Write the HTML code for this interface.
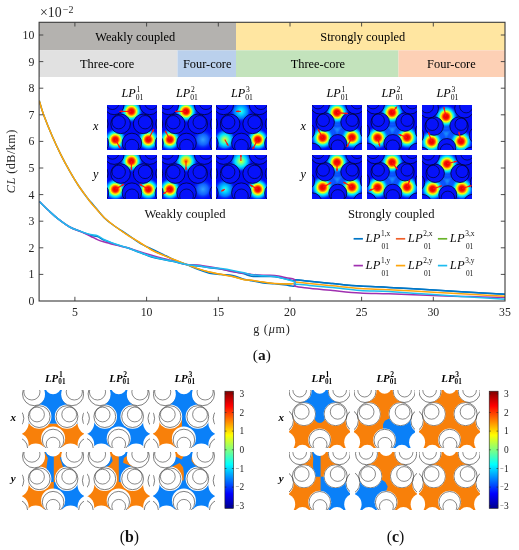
<!DOCTYPE html>
<html><head><meta charset="utf-8"><title>Figure</title>
<style>html,body{margin:0;padding:0;background:#fff;}svg{display:block;}text{font-family:"Liberation Serif",serif;}</style>
</head><body>
<svg width="519" height="550" viewBox="0 0 519 550">
<defs>
<radialGradient id="gHot" cx="50%" cy="50%" r="50%">
<stop offset="0" stop-color="#d80000" stop-opacity="1"/>
<stop offset="0.22" stop-color="#ff1000" stop-opacity="1"/>
<stop offset="0.34" stop-color="#ff9000" stop-opacity="1"/>
<stop offset="0.43" stop-color="#ffff00" stop-opacity="1"/>
<stop offset="0.52" stop-color="#80ff70" stop-opacity="1"/>
<stop offset="0.62" stop-color="#00f0ff" stop-opacity="1"/>
<stop offset="0.78" stop-color="#0078ff" stop-opacity="1"/>
<stop offset="1" stop-color="#0010ff" stop-opacity="0"/>
</radialGradient>
<radialGradient id="gMed" cx="50%" cy="50%" r="50%">
<stop offset="0" stop-color="#ff4000" stop-opacity="1"/>
<stop offset="0.12" stop-color="#ff9000" stop-opacity="1"/>
<stop offset="0.25" stop-color="#ffe000" stop-opacity="1"/>
<stop offset="0.4" stop-color="#a0ff50" stop-opacity="1"/>
<stop offset="0.58" stop-color="#00f0ff" stop-opacity="1"/>
<stop offset="0.78" stop-color="#0078ff" stop-opacity="1"/>
<stop offset="1" stop-color="#0010ff" stop-opacity="0"/>
</radialGradient>
<radialGradient id="gMed2" cx="50%" cy="50%" r="50%">
<stop offset="0" stop-color="#e8ff20" stop-opacity="1"/>
<stop offset="0.12" stop-color="#b0ff50" stop-opacity="1"/>
<stop offset="0.28" stop-color="#60ffa0" stop-opacity="1"/>
<stop offset="0.5" stop-color="#00e8ff" stop-opacity="1"/>
<stop offset="0.75" stop-color="#0078ff" stop-opacity="1"/>
<stop offset="1" stop-color="#0010ff" stop-opacity="0"/>
</radialGradient>
<radialGradient id="gCy" cx="50%" cy="50%" r="50%">
<stop offset="0" stop-color="#40ffe0" stop-opacity="1"/>
<stop offset="0.3" stop-color="#00d0ff" stop-opacity="1"/>
<stop offset="0.65" stop-color="#0070ff" stop-opacity="1"/>
<stop offset="1" stop-color="#0010ff" stop-opacity="0"/>
</radialGradient>
<radialGradient id="gDim" cx="50%" cy="50%" r="50%">
<stop offset="0" stop-color="#30a0ff" stop-opacity="1"/>
<stop offset="0.5" stop-color="#1060ff" stop-opacity="1"/>
<stop offset="1" stop-color="#0010ff" stop-opacity="0"/>
</radialGradient>
<radialGradient id="gHaze" cx="50%" cy="50%" r="50%">
<stop offset="0" stop-color="#1890ff" stop-opacity="1"/>
<stop offset="0.55" stop-color="#0a58ff" stop-opacity="0.75"/>
<stop offset="1" stop-color="#0010ff" stop-opacity="0"/>
</radialGradient>
<linearGradient id="jet" x1="0" y1="1" x2="0" y2="0">
<stop offset="0" stop-color="#00008f"/>
<stop offset="0.125" stop-color="#0000ff"/>
<stop offset="0.375" stop-color="#00ffff"/>
<stop offset="0.5" stop-color="#80ff80"/>
<stop offset="0.625" stop-color="#ffff00"/>
<stop offset="0.875" stop-color="#ff0000"/>
<stop offset="1" stop-color="#800000"/>
</linearGradient>
</defs>
<rect x="0" y="0" width="519" height="550" fill="#ffffff"/>
<rect x="39.1" y="22.3" width="196.9" height="28.0" fill="#b4b2af"/>
<rect x="236.0" y="22.3" width="269.0" height="28.0" fill="#ffe6a1"/>
<rect x="39.1" y="50.3" width="138.4" height="26.7" fill="#e1e1e1"/>
<rect x="177.5" y="50.3" width="58.5" height="26.7" fill="#bad0ec"/>
<rect x="236.0" y="50.3" width="162.5" height="26.7" fill="#c3e3bc"/>
<rect x="398.5" y="50.3" width="106.5" height="26.7" fill="#fdd0b5"/>
<text x="135.3" y="40.8" font-size="12.40" text-anchor="middle" fill="#000">Weakly coupled</text>
<text x="362.8" y="40.8" font-size="12.40" text-anchor="middle" fill="#000">Strongly coupled</text>
<text x="107.2" y="67.6" font-size="12.40" text-anchor="middle" fill="#000">Three-core</text>
<text x="207.2" y="67.6" font-size="12.40" text-anchor="middle" fill="#000">Four-core</text>
<text x="317.9" y="67.6" font-size="12.40" text-anchor="middle" fill="#000">Three-core</text>
<text x="451.4" y="67.6" font-size="12.40" text-anchor="middle" fill="#000">Four-core</text>
<g transform="translate(106.9,105.2)">
<clipPath id="clip0"><rect x="0.10" y="-0.20" width="50" height="45"/></clipPath>
<g clip-path="url(#clip0)">
<rect x="-2" y="-2" width="54.2" height="48.3" fill="#0008f4"/>
<g transform="translate(0.0,0.0)">
<circle cx="24.5" cy="6.2" r="11.5" fill="url(#gHot)"/>
<circle cx="8.4" cy="34.4" r="11.5" fill="url(#gHot)"/>
<circle cx="41.4" cy="34.4" r="11.5" fill="url(#gHot)"/>
<circle cx="13.7" cy="18.7" r="9.8" fill="#0612fa" stroke="#000530" stroke-width="0.8"/>
<circle cx="36.2" cy="18.7" r="9.8" fill="#0612fa" stroke="#000530" stroke-width="0.8"/>
<circle cx="25.0" cy="37.8" r="9.8" fill="#0612fa" stroke="#000530" stroke-width="0.8"/>
<circle cx="7.2" cy="-0.5" r="10.0" fill="#0612fa" stroke="#000530" stroke-width="0.8"/>
<circle cx="42.8" cy="-0.5" r="10.0" fill="#0612fa" stroke="#000530" stroke-width="0.8"/>
<circle cx="-8.6" cy="18.7" r="9.8" fill="#0612fa" stroke="#000530" stroke-width="0.8"/>
<circle cx="58.6" cy="18.7" r="9.8" fill="#0612fa" stroke="#000530" stroke-width="0.8"/>
<circle cx="-8.0" cy="38.0" r="9.8" fill="#0612fa" stroke="#000530" stroke-width="0.8"/>
<circle cx="58.0" cy="38.0" r="9.8" fill="#0612fa" stroke="#000530" stroke-width="0.8"/>
<circle cx="25.0" cy="-19.0" r="9.8" fill="#0612fa" stroke="#000530" stroke-width="0.8"/>
<circle cx="11.8" cy="17.0" r="6.7" fill="none" stroke="#000530" stroke-width="0.7"/>
<circle cx="38.2" cy="17.0" r="6.7" fill="none" stroke="#000530" stroke-width="0.7"/>
<circle cx="25.0" cy="41.0" r="6.9" fill="none" stroke="#000530" stroke-width="0.7"/>
<circle cx="5.5" cy="-2.5" r="6.8" fill="none" stroke="#000530" stroke-width="0.7"/>
<circle cx="44.5" cy="-2.5" r="6.8" fill="none" stroke="#000530" stroke-width="0.7"/>
<circle cx="-11.0" cy="17.0" r="6.7" fill="none" stroke="#000530" stroke-width="0.7"/>
<circle cx="61.0" cy="17.0" r="6.7" fill="none" stroke="#000530" stroke-width="0.7"/>
<circle cx="-10.0" cy="41.0" r="6.8" fill="none" stroke="#000530" stroke-width="0.7"/>
<circle cx="60.0" cy="41.0" r="6.8" fill="none" stroke="#000530" stroke-width="0.7"/>
<line x1="24.5" y1="6.2" x2="12.5" y2="6.2" stroke="#ff1010" stroke-width="1.1"/>
<polygon points="12.5,6.2 15.1,5.1 15.1,7.3" fill="#ff1010"/>
<line x1="8.4" y1="34.4" x2="13.4" y2="43.1" stroke="#ff1010" stroke-width="1.1"/>
<polygon points="13.4,43.1 11.1,41.4 13.1,40.3" fill="#ff1010"/>
<line x1="41.4" y1="34.4" x2="47.0" y2="23.8" stroke="#ff1010" stroke-width="1.1"/>
<polygon points="47.0,23.8 46.8,26.6 44.8,25.6" fill="#ff1010"/>
</g></g></g>
<g transform="translate(161.5,105.2)">
<clipPath id="clip1"><rect x="0.50" y="-0.20" width="50" height="45"/></clipPath>
<g clip-path="url(#clip1)">
<rect x="-2" y="-2" width="54.2" height="48.3" fill="#0008f4"/>
<g transform="translate(0.0,0.0)">
<circle cx="24.5" cy="6.2" r="11.5" fill="url(#gHot)"/>
<circle cx="8.4" cy="34.4" r="11.5" fill="url(#gHot)"/>
<circle cx="41.4" cy="34.4" r="10.9" fill="url(#gDim)"/>
<circle cx="13.7" cy="18.7" r="9.8" fill="#0612fa" stroke="#000530" stroke-width="0.8"/>
<circle cx="36.2" cy="18.7" r="9.8" fill="#0612fa" stroke="#000530" stroke-width="0.8"/>
<circle cx="25.0" cy="37.8" r="9.8" fill="#0612fa" stroke="#000530" stroke-width="0.8"/>
<circle cx="7.2" cy="-0.5" r="10.0" fill="#0612fa" stroke="#000530" stroke-width="0.8"/>
<circle cx="42.8" cy="-0.5" r="10.0" fill="#0612fa" stroke="#000530" stroke-width="0.8"/>
<circle cx="-8.6" cy="18.7" r="9.8" fill="#0612fa" stroke="#000530" stroke-width="0.8"/>
<circle cx="58.6" cy="18.7" r="9.8" fill="#0612fa" stroke="#000530" stroke-width="0.8"/>
<circle cx="-8.0" cy="38.0" r="9.8" fill="#0612fa" stroke="#000530" stroke-width="0.8"/>
<circle cx="58.0" cy="38.0" r="9.8" fill="#0612fa" stroke="#000530" stroke-width="0.8"/>
<circle cx="25.0" cy="-19.0" r="9.8" fill="#0612fa" stroke="#000530" stroke-width="0.8"/>
<circle cx="11.8" cy="17.0" r="6.7" fill="none" stroke="#000530" stroke-width="0.7"/>
<circle cx="38.2" cy="17.0" r="6.7" fill="none" stroke="#000530" stroke-width="0.7"/>
<circle cx="25.0" cy="41.0" r="6.9" fill="none" stroke="#000530" stroke-width="0.7"/>
<circle cx="5.5" cy="-2.5" r="6.8" fill="none" stroke="#000530" stroke-width="0.7"/>
<circle cx="44.5" cy="-2.5" r="6.8" fill="none" stroke="#000530" stroke-width="0.7"/>
<circle cx="-11.0" cy="17.0" r="6.7" fill="none" stroke="#000530" stroke-width="0.7"/>
<circle cx="61.0" cy="17.0" r="6.7" fill="none" stroke="#000530" stroke-width="0.7"/>
<circle cx="-10.0" cy="41.0" r="6.8" fill="none" stroke="#000530" stroke-width="0.7"/>
<circle cx="60.0" cy="41.0" r="6.8" fill="none" stroke="#000530" stroke-width="0.7"/>
<line x1="24.5" y1="6.2" x2="13.5" y2="6.2" stroke="#ff1010" stroke-width="1.1"/>
<polygon points="13.5,6.2 16.1,5.1 16.1,7.3" fill="#ff1010"/>
<line x1="8.4" y1="34.4" x2="3.7" y2="25.6" stroke="#ff1010" stroke-width="1.1"/>
<polygon points="3.7,25.6 5.9,27.3 4.0,28.4" fill="#ff1010"/>
</g></g></g>
<g transform="translate(216.4,105.2)">
<clipPath id="clip2"><rect x="-0.40" y="-0.20" width="51" height="45"/></clipPath>
<g clip-path="url(#clip2)">
<rect x="-2" y="-2" width="54.2" height="48.3" fill="#0008f4"/>
<g transform="translate(0.0,0.0)">
<circle cx="24.5" cy="6.2" r="10.9" fill="url(#gCy)"/>
<circle cx="8.4" cy="34.4" r="10.9" fill="url(#gMed2)"/>
<circle cx="41.4" cy="34.4" r="11.5" fill="url(#gHot)"/>
<circle cx="13.7" cy="18.7" r="9.8" fill="#0612fa" stroke="#000530" stroke-width="0.8"/>
<circle cx="36.2" cy="18.7" r="9.8" fill="#0612fa" stroke="#000530" stroke-width="0.8"/>
<circle cx="25.0" cy="37.8" r="9.8" fill="#0612fa" stroke="#000530" stroke-width="0.8"/>
<circle cx="7.2" cy="-0.5" r="10.0" fill="#0612fa" stroke="#000530" stroke-width="0.8"/>
<circle cx="42.8" cy="-0.5" r="10.0" fill="#0612fa" stroke="#000530" stroke-width="0.8"/>
<circle cx="-8.6" cy="18.7" r="9.8" fill="#0612fa" stroke="#000530" stroke-width="0.8"/>
<circle cx="58.6" cy="18.7" r="9.8" fill="#0612fa" stroke="#000530" stroke-width="0.8"/>
<circle cx="-8.0" cy="38.0" r="9.8" fill="#0612fa" stroke="#000530" stroke-width="0.8"/>
<circle cx="58.0" cy="38.0" r="9.8" fill="#0612fa" stroke="#000530" stroke-width="0.8"/>
<circle cx="25.0" cy="-19.0" r="9.8" fill="#0612fa" stroke="#000530" stroke-width="0.8"/>
<circle cx="11.8" cy="17.0" r="6.7" fill="none" stroke="#000530" stroke-width="0.7"/>
<circle cx="38.2" cy="17.0" r="6.7" fill="none" stroke="#000530" stroke-width="0.7"/>
<circle cx="25.0" cy="41.0" r="6.9" fill="none" stroke="#000530" stroke-width="0.7"/>
<circle cx="5.5" cy="-2.5" r="6.8" fill="none" stroke="#000530" stroke-width="0.7"/>
<circle cx="44.5" cy="-2.5" r="6.8" fill="none" stroke="#000530" stroke-width="0.7"/>
<circle cx="-11.0" cy="17.0" r="6.7" fill="none" stroke="#000530" stroke-width="0.7"/>
<circle cx="61.0" cy="17.0" r="6.7" fill="none" stroke="#000530" stroke-width="0.7"/>
<circle cx="-10.0" cy="41.0" r="6.8" fill="none" stroke="#000530" stroke-width="0.7"/>
<circle cx="60.0" cy="41.0" r="6.8" fill="none" stroke="#000530" stroke-width="0.7"/>
<line x1="24.5" y1="6.2" x2="19.5" y2="6.2" stroke="#ff1010" stroke-width="1.1"/>
<polygon points="19.5,6.2 22.1,5.1 22.1,7.3" fill="#ff1010"/>
<line x1="8.4" y1="34.4" x2="11.9" y2="40.5" stroke="#ff1010" stroke-width="1.1"/>
<polygon points="11.9,40.5 9.6,38.8 11.6,37.7" fill="#ff1010"/>
<line x1="41.4" y1="34.4" x2="36.2" y2="44.1" stroke="#ff1010" stroke-width="1.1"/>
<polygon points="36.2,44.1 36.5,41.3 38.4,42.3" fill="#ff1010"/>
</g></g></g>
<g transform="translate(106.9,154.9)">
<clipPath id="clip3"><rect x="0.10" y="0.10" width="50" height="44"/></clipPath>
<g clip-path="url(#clip3)">
<rect x="-2" y="-2" width="54.2" height="48.3" fill="#0008f4"/>
<g transform="translate(0.0,0.0)">
<circle cx="24.5" cy="6.2" r="11.5" fill="url(#gHot)"/>
<circle cx="8.4" cy="34.4" r="11.5" fill="url(#gHot)"/>
<circle cx="41.4" cy="34.4" r="11.5" fill="url(#gHot)"/>
<circle cx="13.7" cy="18.7" r="9.8" fill="#0612fa" stroke="#000530" stroke-width="0.8"/>
<circle cx="36.2" cy="18.7" r="9.8" fill="#0612fa" stroke="#000530" stroke-width="0.8"/>
<circle cx="25.0" cy="37.8" r="9.8" fill="#0612fa" stroke="#000530" stroke-width="0.8"/>
<circle cx="7.2" cy="-0.5" r="10.0" fill="#0612fa" stroke="#000530" stroke-width="0.8"/>
<circle cx="42.8" cy="-0.5" r="10.0" fill="#0612fa" stroke="#000530" stroke-width="0.8"/>
<circle cx="-8.6" cy="18.7" r="9.8" fill="#0612fa" stroke="#000530" stroke-width="0.8"/>
<circle cx="58.6" cy="18.7" r="9.8" fill="#0612fa" stroke="#000530" stroke-width="0.8"/>
<circle cx="-8.0" cy="38.0" r="9.8" fill="#0612fa" stroke="#000530" stroke-width="0.8"/>
<circle cx="58.0" cy="38.0" r="9.8" fill="#0612fa" stroke="#000530" stroke-width="0.8"/>
<circle cx="25.0" cy="-19.0" r="9.8" fill="#0612fa" stroke="#000530" stroke-width="0.8"/>
<circle cx="11.8" cy="17.0" r="6.7" fill="none" stroke="#000530" stroke-width="0.7"/>
<circle cx="38.2" cy="17.0" r="6.7" fill="none" stroke="#000530" stroke-width="0.7"/>
<circle cx="25.0" cy="41.0" r="6.9" fill="none" stroke="#000530" stroke-width="0.7"/>
<circle cx="5.5" cy="-2.5" r="6.8" fill="none" stroke="#000530" stroke-width="0.7"/>
<circle cx="44.5" cy="-2.5" r="6.8" fill="none" stroke="#000530" stroke-width="0.7"/>
<circle cx="-11.0" cy="17.0" r="6.7" fill="none" stroke="#000530" stroke-width="0.7"/>
<circle cx="61.0" cy="17.0" r="6.7" fill="none" stroke="#000530" stroke-width="0.7"/>
<circle cx="-10.0" cy="41.0" r="6.8" fill="none" stroke="#000530" stroke-width="0.7"/>
<circle cx="60.0" cy="41.0" r="6.8" fill="none" stroke="#000530" stroke-width="0.7"/>
<line x1="24.5" y1="6.2" x2="24.5" y2="15.2" stroke="#ff1010" stroke-width="1.1"/>
<polygon points="24.5,15.2 23.4,12.6 25.6,12.6" fill="#ff1010"/>
<line x1="8.4" y1="34.4" x2="17.1" y2="29.4" stroke="#ff1010" stroke-width="1.1"/>
<polygon points="17.1,29.4 15.4,31.7 14.3,29.7" fill="#ff1010"/>
<line x1="41.4" y1="34.4" x2="32.7" y2="29.4" stroke="#ff1010" stroke-width="1.1"/>
<polygon points="32.7,29.4 35.5,29.7 34.4,31.7" fill="#ff1010"/>
</g></g></g>
<g transform="translate(161.5,154.9)">
<clipPath id="clip4"><rect x="0.50" y="0.10" width="50" height="44"/></clipPath>
<g clip-path="url(#clip4)">
<rect x="-2" y="-2" width="54.2" height="48.3" fill="#0008f4"/>
<g transform="translate(0.0,0.0)">
<circle cx="24.5" cy="6.2" r="11.5" fill="url(#gMed)"/>
<circle cx="8.4" cy="34.4" r="11.5" fill="url(#gHot)"/>
<circle cx="41.4" cy="34.4" r="10.9" fill="url(#gDim)"/>
<circle cx="13.7" cy="18.7" r="9.8" fill="#0612fa" stroke="#000530" stroke-width="0.8"/>
<circle cx="36.2" cy="18.7" r="9.8" fill="#0612fa" stroke="#000530" stroke-width="0.8"/>
<circle cx="25.0" cy="37.8" r="9.8" fill="#0612fa" stroke="#000530" stroke-width="0.8"/>
<circle cx="7.2" cy="-0.5" r="10.0" fill="#0612fa" stroke="#000530" stroke-width="0.8"/>
<circle cx="42.8" cy="-0.5" r="10.0" fill="#0612fa" stroke="#000530" stroke-width="0.8"/>
<circle cx="-8.6" cy="18.7" r="9.8" fill="#0612fa" stroke="#000530" stroke-width="0.8"/>
<circle cx="58.6" cy="18.7" r="9.8" fill="#0612fa" stroke="#000530" stroke-width="0.8"/>
<circle cx="-8.0" cy="38.0" r="9.8" fill="#0612fa" stroke="#000530" stroke-width="0.8"/>
<circle cx="58.0" cy="38.0" r="9.8" fill="#0612fa" stroke="#000530" stroke-width="0.8"/>
<circle cx="25.0" cy="-19.0" r="9.8" fill="#0612fa" stroke="#000530" stroke-width="0.8"/>
<circle cx="11.8" cy="17.0" r="6.7" fill="none" stroke="#000530" stroke-width="0.7"/>
<circle cx="38.2" cy="17.0" r="6.7" fill="none" stroke="#000530" stroke-width="0.7"/>
<circle cx="25.0" cy="41.0" r="6.9" fill="none" stroke="#000530" stroke-width="0.7"/>
<circle cx="5.5" cy="-2.5" r="6.8" fill="none" stroke="#000530" stroke-width="0.7"/>
<circle cx="44.5" cy="-2.5" r="6.8" fill="none" stroke="#000530" stroke-width="0.7"/>
<circle cx="-11.0" cy="17.0" r="6.7" fill="none" stroke="#000530" stroke-width="0.7"/>
<circle cx="61.0" cy="17.0" r="6.7" fill="none" stroke="#000530" stroke-width="0.7"/>
<circle cx="-10.0" cy="41.0" r="6.8" fill="none" stroke="#000530" stroke-width="0.7"/>
<circle cx="60.0" cy="41.0" r="6.8" fill="none" stroke="#000530" stroke-width="0.7"/>
<line x1="24.5" y1="6.2" x2="24.5" y2="15.2" stroke="#ff1010" stroke-width="1.1"/>
<polygon points="24.5,15.2 23.4,12.6 25.6,12.6" fill="#ff1010"/>
<line x1="8.4" y1="34.4" x2="1.8" y2="39.0" stroke="#ff1010" stroke-width="1.1"/>
<polygon points="1.8,39.0 3.3,36.6 4.6,38.4" fill="#ff1010"/>
</g></g></g>
<g transform="translate(216.4,154.9)">
<clipPath id="clip5"><rect x="-0.40" y="0.10" width="51" height="44"/></clipPath>
<g clip-path="url(#clip5)">
<rect x="-2" y="-2" width="54.2" height="48.3" fill="#0008f4"/>
<g transform="translate(0.0,0.0)">
<circle cx="24.5" cy="6.2" r="10.9" fill="url(#gMed2)"/>
<circle cx="8.4" cy="34.4" r="10.9" fill="url(#gCy)"/>
<circle cx="41.4" cy="34.4" r="11.5" fill="url(#gHot)"/>
<circle cx="13.7" cy="18.7" r="9.8" fill="#0612fa" stroke="#000530" stroke-width="0.8"/>
<circle cx="36.2" cy="18.7" r="9.8" fill="#0612fa" stroke="#000530" stroke-width="0.8"/>
<circle cx="25.0" cy="37.8" r="9.8" fill="#0612fa" stroke="#000530" stroke-width="0.8"/>
<circle cx="7.2" cy="-0.5" r="10.0" fill="#0612fa" stroke="#000530" stroke-width="0.8"/>
<circle cx="42.8" cy="-0.5" r="10.0" fill="#0612fa" stroke="#000530" stroke-width="0.8"/>
<circle cx="-8.6" cy="18.7" r="9.8" fill="#0612fa" stroke="#000530" stroke-width="0.8"/>
<circle cx="58.6" cy="18.7" r="9.8" fill="#0612fa" stroke="#000530" stroke-width="0.8"/>
<circle cx="-8.0" cy="38.0" r="9.8" fill="#0612fa" stroke="#000530" stroke-width="0.8"/>
<circle cx="58.0" cy="38.0" r="9.8" fill="#0612fa" stroke="#000530" stroke-width="0.8"/>
<circle cx="25.0" cy="-19.0" r="9.8" fill="#0612fa" stroke="#000530" stroke-width="0.8"/>
<circle cx="11.8" cy="17.0" r="6.7" fill="none" stroke="#000530" stroke-width="0.7"/>
<circle cx="38.2" cy="17.0" r="6.7" fill="none" stroke="#000530" stroke-width="0.7"/>
<circle cx="25.0" cy="41.0" r="6.9" fill="none" stroke="#000530" stroke-width="0.7"/>
<circle cx="5.5" cy="-2.5" r="6.8" fill="none" stroke="#000530" stroke-width="0.7"/>
<circle cx="44.5" cy="-2.5" r="6.8" fill="none" stroke="#000530" stroke-width="0.7"/>
<circle cx="-11.0" cy="17.0" r="6.7" fill="none" stroke="#000530" stroke-width="0.7"/>
<circle cx="61.0" cy="17.0" r="6.7" fill="none" stroke="#000530" stroke-width="0.7"/>
<circle cx="-10.0" cy="41.0" r="6.8" fill="none" stroke="#000530" stroke-width="0.7"/>
<circle cx="60.0" cy="41.0" r="6.8" fill="none" stroke="#000530" stroke-width="0.7"/>
<line x1="24.5" y1="6.2" x2="24.5" y2="-0.8" stroke="#ff1010" stroke-width="1.1"/>
<polygon points="24.5,-0.8 25.6,1.8 23.4,1.8" fill="#ff1010"/>
<line x1="8.4" y1="34.4" x2="4.9" y2="36.4" stroke="#ff1010" stroke-width="1.1"/>
<polygon points="4.9,36.4 6.6,34.1 7.7,36.1" fill="#ff1010"/>
<line x1="41.4" y1="34.4" x2="33.6" y2="29.9" stroke="#ff1010" stroke-width="1.1"/>
<polygon points="33.6,29.9 36.4,30.2 35.3,32.2" fill="#ff1010"/>
</g></g></g>
<g transform="translate(312.0,105.2)">
<clipPath id="clip6"><rect x="0.00" y="-0.20" width="50" height="45"/></clipPath>
<g clip-path="url(#clip6)">
<rect x="-2" y="-2" width="54.2" height="48.3" fill="#0008f4"/>
<g transform="translate(0.0,0.0)">
<ellipse cx="25.3" cy="24.5" rx="13" ry="12" fill="url(#gHaze)"/>
<circle cx="25.1" cy="15.9" r="7" fill="url(#gHaze)"/>
<circle cx="17.9" cy="28.5" r="7" fill="url(#gHaze)"/>
<circle cx="32.6" cy="28.4" r="7" fill="url(#gHaze)"/>
<circle cx="25.0" cy="7.4" r="12.0" fill="url(#gHot)"/>
<circle cx="10.6" cy="32.5" r="12.0" fill="url(#gHot)"/>
<circle cx="40.0" cy="32.2" r="12.0" fill="url(#gHot)"/>
<circle cx="13.2" cy="16.9" r="9.2" fill="#0612fa" stroke="#000530" stroke-width="0.8"/>
<circle cx="38.0" cy="16.9" r="9.2" fill="#0612fa" stroke="#000530" stroke-width="0.8"/>
<circle cx="25.8" cy="38.3" r="9.0" fill="#0612fa" stroke="#000530" stroke-width="0.8"/>
<circle cx="7.8" cy="-0.9" r="9.7" fill="#0612fa" stroke="#000530" stroke-width="0.8"/>
<circle cx="43.4" cy="-0.9" r="9.7" fill="#0612fa" stroke="#000530" stroke-width="0.8"/>
<circle cx="-6.5" cy="26.0" r="9.2" fill="#0612fa" stroke="#000530" stroke-width="0.8"/>
<circle cx="57.5" cy="26.0" r="9.2" fill="#0612fa" stroke="#000530" stroke-width="0.8"/>
<circle cx="0.5" cy="47.0" r="9.0" fill="#0612fa" stroke="#000530" stroke-width="0.8"/>
<circle cx="50.5" cy="47.0" r="9.0" fill="#0612fa" stroke="#000530" stroke-width="0.8"/>
<circle cx="11.2" cy="15.1" r="6.2" fill="none" stroke="#000530" stroke-width="0.7"/>
<circle cx="40.1" cy="15.1" r="6.1" fill="none" stroke="#000530" stroke-width="0.7"/>
<circle cx="25.8" cy="41.4" r="6.7" fill="none" stroke="#000530" stroke-width="0.7"/>
<circle cx="6.0" cy="-2.8" r="6.5" fill="none" stroke="#000530" stroke-width="0.7"/>
<circle cx="45.2" cy="-2.8" r="6.5" fill="none" stroke="#000530" stroke-width="0.7"/>
<circle cx="-9.0" cy="27.5" r="6.2" fill="none" stroke="#000530" stroke-width="0.7"/>
<circle cx="60.0" cy="27.5" r="6.2" fill="none" stroke="#000530" stroke-width="0.7"/>
<line x1="25.0" y1="7.4" x2="36.0" y2="8.4" stroke="#ff1010" stroke-width="1.1"/>
<polygon points="36.0,8.4 33.3,9.2 33.5,7.0" fill="#ff1010"/>
<line x1="10.6" y1="32.5" x2="5.9" y2="23.7" stroke="#ff1010" stroke-width="1.1"/>
<polygon points="5.9,23.7 8.1,25.4 6.2,26.5" fill="#ff1010"/>
<line x1="40.0" y1="32.2" x2="34.8" y2="41.9" stroke="#ff1010" stroke-width="1.1"/>
<polygon points="34.8,41.9 35.1,39.1 37.0,40.1" fill="#ff1010"/>
</g></g></g>
<g transform="translate(367.0,105.2)">
<clipPath id="clip7"><rect x="0.00" y="-0.20" width="50" height="45"/></clipPath>
<g clip-path="url(#clip7)">
<rect x="-2" y="-2" width="54.2" height="48.3" fill="#0008f4"/>
<g transform="translate(0.0,0.0)">
<ellipse cx="25.3" cy="24.5" rx="13" ry="12" fill="url(#gHaze)"/>
<circle cx="25.1" cy="15.9" r="7" fill="url(#gHaze)"/>
<circle cx="17.9" cy="28.5" r="7" fill="url(#gHaze)"/>
<circle cx="32.6" cy="28.4" r="7" fill="url(#gHaze)"/>
<circle cx="25.0" cy="7.4" r="12.0" fill="url(#gHot)"/>
<circle cx="10.6" cy="32.5" r="12.0" fill="url(#gHot)"/>
<circle cx="40.0" cy="32.2" r="12.0" fill="url(#gHot)"/>
<circle cx="13.2" cy="16.9" r="9.2" fill="#0612fa" stroke="#000530" stroke-width="0.8"/>
<circle cx="38.0" cy="16.9" r="9.2" fill="#0612fa" stroke="#000530" stroke-width="0.8"/>
<circle cx="25.8" cy="38.3" r="9.0" fill="#0612fa" stroke="#000530" stroke-width="0.8"/>
<circle cx="7.8" cy="-0.9" r="9.7" fill="#0612fa" stroke="#000530" stroke-width="0.8"/>
<circle cx="43.4" cy="-0.9" r="9.7" fill="#0612fa" stroke="#000530" stroke-width="0.8"/>
<circle cx="-6.5" cy="26.0" r="9.2" fill="#0612fa" stroke="#000530" stroke-width="0.8"/>
<circle cx="57.5" cy="26.0" r="9.2" fill="#0612fa" stroke="#000530" stroke-width="0.8"/>
<circle cx="0.5" cy="47.0" r="9.0" fill="#0612fa" stroke="#000530" stroke-width="0.8"/>
<circle cx="50.5" cy="47.0" r="9.0" fill="#0612fa" stroke="#000530" stroke-width="0.8"/>
<circle cx="11.2" cy="15.1" r="6.2" fill="none" stroke="#000530" stroke-width="0.7"/>
<circle cx="40.1" cy="15.1" r="6.1" fill="none" stroke="#000530" stroke-width="0.7"/>
<circle cx="25.8" cy="41.4" r="6.7" fill="none" stroke="#000530" stroke-width="0.7"/>
<circle cx="6.0" cy="-2.8" r="6.5" fill="none" stroke="#000530" stroke-width="0.7"/>
<circle cx="45.2" cy="-2.8" r="6.5" fill="none" stroke="#000530" stroke-width="0.7"/>
<circle cx="-9.0" cy="27.5" r="6.2" fill="none" stroke="#000530" stroke-width="0.7"/>
<circle cx="60.0" cy="27.5" r="6.2" fill="none" stroke="#000530" stroke-width="0.7"/>
<line x1="25.0" y1="7.4" x2="30.1" y2="1.3" stroke="#ff1010" stroke-width="1.1"/>
<polygon points="30.1,1.3 29.3,4.0 27.6,2.6" fill="#ff1010"/>
<line x1="10.6" y1="32.5" x2="12.9" y2="41.2" stroke="#ff1010" stroke-width="1.1"/>
<polygon points="12.9,41.2 11.2,39.0 13.3,38.4" fill="#ff1010"/>
<line x1="40.0" y1="32.2" x2="31.5" y2="29.1" stroke="#ff1010" stroke-width="1.1"/>
<polygon points="31.5,29.1 34.4,29.0 33.6,31.0" fill="#ff1010"/>
</g></g></g>
<g transform="translate(422.0,105.2)">
<clipPath id="clip8"><rect x="0.00" y="-0.20" width="50" height="45"/></clipPath>
<g clip-path="url(#clip8)">
<rect x="-2" y="-2" width="54.2" height="48.3" fill="#0008f4"/>
<g transform="translate(-1.0,4.0)">
<ellipse cx="25.3" cy="24.5" rx="13" ry="12" fill="url(#gHaze)"/>
<circle cx="25.1" cy="15.9" r="7" fill="url(#gHaze)"/>
<circle cx="17.9" cy="28.5" r="7" fill="url(#gHaze)"/>
<circle cx="32.6" cy="28.4" r="7" fill="url(#gHaze)"/>
<circle cx="25.0" cy="7.4" r="12.0" fill="url(#gHot)"/>
<circle cx="10.6" cy="32.5" r="12.0" fill="url(#gHot)"/>
<circle cx="40.0" cy="32.2" r="12.0" fill="url(#gHot)"/>
<circle cx="13.2" cy="16.9" r="9.2" fill="#0612fa" stroke="#000530" stroke-width="0.8"/>
<circle cx="38.0" cy="16.9" r="9.2" fill="#0612fa" stroke="#000530" stroke-width="0.8"/>
<circle cx="25.8" cy="38.3" r="9.0" fill="#0612fa" stroke="#000530" stroke-width="0.8"/>
<circle cx="7.8" cy="-0.9" r="9.7" fill="#0612fa" stroke="#000530" stroke-width="0.8"/>
<circle cx="43.4" cy="-0.9" r="9.7" fill="#0612fa" stroke="#000530" stroke-width="0.8"/>
<circle cx="-6.5" cy="26.0" r="9.2" fill="#0612fa" stroke="#000530" stroke-width="0.8"/>
<circle cx="57.5" cy="26.0" r="9.2" fill="#0612fa" stroke="#000530" stroke-width="0.8"/>
<circle cx="0.5" cy="47.0" r="9.0" fill="#0612fa" stroke="#000530" stroke-width="0.8"/>
<circle cx="50.5" cy="47.0" r="9.0" fill="#0612fa" stroke="#000530" stroke-width="0.8"/>
<circle cx="11.2" cy="15.1" r="6.2" fill="none" stroke="#000530" stroke-width="0.7"/>
<circle cx="40.1" cy="15.1" r="6.1" fill="none" stroke="#000530" stroke-width="0.7"/>
<circle cx="25.8" cy="41.4" r="6.7" fill="none" stroke="#000530" stroke-width="0.7"/>
<circle cx="6.0" cy="-2.8" r="6.5" fill="none" stroke="#000530" stroke-width="0.7"/>
<circle cx="45.2" cy="-2.8" r="6.5" fill="none" stroke="#000530" stroke-width="0.7"/>
<circle cx="-9.0" cy="27.5" r="6.2" fill="none" stroke="#000530" stroke-width="0.7"/>
<circle cx="60.0" cy="27.5" r="6.2" fill="none" stroke="#000530" stroke-width="0.7"/>
<line x1="25.0" y1="7.4" x2="22.8" y2="-2.3" stroke="#ff1010" stroke-width="1.1"/>
<polygon points="22.8,-2.3 24.4,-0.1 22.3,0.4" fill="#ff1010"/>
<line x1="10.6" y1="32.5" x2="7.5" y2="23.0" stroke="#ff1010" stroke-width="1.1"/>
<polygon points="7.5,23.0 9.4,25.1 7.3,25.8" fill="#ff1010"/>
<line x1="40.0" y1="32.2" x2="37.8" y2="22.5" stroke="#ff1010" stroke-width="1.1"/>
<polygon points="37.8,22.5 39.4,24.7 37.3,25.2" fill="#ff1010"/>
</g></g></g>
<g transform="translate(312.0,154.9)">
<clipPath id="clip9"><rect x="0.00" y="0.10" width="50" height="44"/></clipPath>
<g clip-path="url(#clip9)">
<rect x="-2" y="-2" width="54.2" height="48.3" fill="#0008f4"/>
<g transform="translate(0.0,0.0)">
<ellipse cx="25.3" cy="24.5" rx="13" ry="12" fill="url(#gHaze)"/>
<circle cx="25.1" cy="15.9" r="7" fill="url(#gHaze)"/>
<circle cx="17.9" cy="28.5" r="7" fill="url(#gHaze)"/>
<circle cx="32.6" cy="28.4" r="7" fill="url(#gHaze)"/>
<circle cx="25.0" cy="7.4" r="12.0" fill="url(#gHot)"/>
<circle cx="10.6" cy="32.5" r="12.0" fill="url(#gHot)"/>
<circle cx="40.0" cy="32.2" r="12.0" fill="url(#gHot)"/>
<circle cx="13.2" cy="16.9" r="9.2" fill="#0612fa" stroke="#000530" stroke-width="0.8"/>
<circle cx="38.0" cy="16.9" r="9.2" fill="#0612fa" stroke="#000530" stroke-width="0.8"/>
<circle cx="25.8" cy="38.3" r="9.0" fill="#0612fa" stroke="#000530" stroke-width="0.8"/>
<circle cx="7.8" cy="-0.9" r="9.7" fill="#0612fa" stroke="#000530" stroke-width="0.8"/>
<circle cx="43.4" cy="-0.9" r="9.7" fill="#0612fa" stroke="#000530" stroke-width="0.8"/>
<circle cx="-6.5" cy="26.0" r="9.2" fill="#0612fa" stroke="#000530" stroke-width="0.8"/>
<circle cx="57.5" cy="26.0" r="9.2" fill="#0612fa" stroke="#000530" stroke-width="0.8"/>
<circle cx="0.5" cy="47.0" r="9.0" fill="#0612fa" stroke="#000530" stroke-width="0.8"/>
<circle cx="50.5" cy="47.0" r="9.0" fill="#0612fa" stroke="#000530" stroke-width="0.8"/>
<circle cx="11.2" cy="15.1" r="6.2" fill="none" stroke="#000530" stroke-width="0.7"/>
<circle cx="40.1" cy="15.1" r="6.1" fill="none" stroke="#000530" stroke-width="0.7"/>
<circle cx="25.8" cy="41.4" r="6.7" fill="none" stroke="#000530" stroke-width="0.7"/>
<circle cx="6.0" cy="-2.8" r="6.5" fill="none" stroke="#000530" stroke-width="0.7"/>
<circle cx="45.2" cy="-2.8" r="6.5" fill="none" stroke="#000530" stroke-width="0.7"/>
<circle cx="-9.0" cy="27.5" r="6.2" fill="none" stroke="#000530" stroke-width="0.7"/>
<circle cx="60.0" cy="27.5" r="6.2" fill="none" stroke="#000530" stroke-width="0.7"/>
<line x1="25.0" y1="7.4" x2="25.0" y2="16.4" stroke="#ff1010" stroke-width="1.1"/>
<polygon points="25.0,16.4 23.9,13.8 26.1,13.8" fill="#ff1010"/>
<line x1="10.6" y1="32.5" x2="19.3" y2="27.5" stroke="#ff1010" stroke-width="1.1"/>
<polygon points="19.3,27.5 17.6,29.8 16.5,27.8" fill="#ff1010"/>
<line x1="40.0" y1="32.2" x2="31.3" y2="27.2" stroke="#ff1010" stroke-width="1.1"/>
<polygon points="31.3,27.2 34.1,27.5 33.0,29.5" fill="#ff1010"/>
</g></g></g>
<g transform="translate(367.0,154.9)">
<clipPath id="clip10"><rect x="0.00" y="0.10" width="50" height="44"/></clipPath>
<g clip-path="url(#clip10)">
<rect x="-2" y="-2" width="54.2" height="48.3" fill="#0008f4"/>
<g transform="translate(0.0,0.0)">
<ellipse cx="25.3" cy="24.5" rx="13" ry="12" fill="url(#gHaze)"/>
<circle cx="25.1" cy="15.9" r="7" fill="url(#gHaze)"/>
<circle cx="17.9" cy="28.5" r="7" fill="url(#gHaze)"/>
<circle cx="32.6" cy="28.4" r="7" fill="url(#gHaze)"/>
<circle cx="25.0" cy="7.4" r="12.0" fill="url(#gHot)"/>
<circle cx="10.6" cy="32.5" r="12.0" fill="url(#gHot)"/>
<circle cx="40.0" cy="32.2" r="12.0" fill="url(#gHot)"/>
<circle cx="13.2" cy="16.9" r="9.2" fill="#0612fa" stroke="#000530" stroke-width="0.8"/>
<circle cx="38.0" cy="16.9" r="9.2" fill="#0612fa" stroke="#000530" stroke-width="0.8"/>
<circle cx="25.8" cy="38.3" r="9.0" fill="#0612fa" stroke="#000530" stroke-width="0.8"/>
<circle cx="7.8" cy="-0.9" r="9.7" fill="#0612fa" stroke="#000530" stroke-width="0.8"/>
<circle cx="43.4" cy="-0.9" r="9.7" fill="#0612fa" stroke="#000530" stroke-width="0.8"/>
<circle cx="-6.5" cy="26.0" r="9.2" fill="#0612fa" stroke="#000530" stroke-width="0.8"/>
<circle cx="57.5" cy="26.0" r="9.2" fill="#0612fa" stroke="#000530" stroke-width="0.8"/>
<circle cx="0.5" cy="47.0" r="9.0" fill="#0612fa" stroke="#000530" stroke-width="0.8"/>
<circle cx="50.5" cy="47.0" r="9.0" fill="#0612fa" stroke="#000530" stroke-width="0.8"/>
<circle cx="11.2" cy="15.1" r="6.2" fill="none" stroke="#000530" stroke-width="0.7"/>
<circle cx="40.1" cy="15.1" r="6.1" fill="none" stroke="#000530" stroke-width="0.7"/>
<circle cx="25.8" cy="41.4" r="6.7" fill="none" stroke="#000530" stroke-width="0.7"/>
<circle cx="6.0" cy="-2.8" r="6.5" fill="none" stroke="#000530" stroke-width="0.7"/>
<circle cx="45.2" cy="-2.8" r="6.5" fill="none" stroke="#000530" stroke-width="0.7"/>
<circle cx="-9.0" cy="27.5" r="6.2" fill="none" stroke="#000530" stroke-width="0.7"/>
<circle cx="60.0" cy="27.5" r="6.2" fill="none" stroke="#000530" stroke-width="0.7"/>
<line x1="25.0" y1="7.4" x2="30.5" y2="14.5" stroke="#ff1010" stroke-width="1.1"/>
<polygon points="30.5,14.5 28.1,13.1 29.8,11.8" fill="#ff1010"/>
<line x1="10.6" y1="32.5" x2="2.1" y2="35.6" stroke="#ff1010" stroke-width="1.1"/>
<polygon points="2.1,35.6 4.2,33.7 5.0,35.7" fill="#ff1010"/>
<line x1="40.0" y1="32.2" x2="43.0" y2="24.8" stroke="#ff1010" stroke-width="1.1"/>
<polygon points="43.0,24.8 43.0,27.6 41.0,26.8" fill="#ff1010"/>
</g></g></g>
<g transform="translate(422.0,154.9)">
<clipPath id="clip11"><rect x="0.00" y="0.10" width="50" height="44"/></clipPath>
<g clip-path="url(#clip11)">
<rect x="-2" y="-2" width="54.2" height="48.3" fill="#0008f4"/>
<g transform="translate(0.0,1.5)">
<ellipse cx="25.3" cy="24.5" rx="13" ry="12" fill="url(#gHaze)"/>
<circle cx="25.1" cy="15.9" r="7" fill="url(#gHaze)"/>
<circle cx="17.9" cy="28.5" r="7" fill="url(#gHaze)"/>
<circle cx="32.6" cy="28.4" r="7" fill="url(#gHaze)"/>
<circle cx="25.0" cy="7.4" r="12.0" fill="url(#gHot)"/>
<circle cx="10.6" cy="32.5" r="12.0" fill="url(#gHot)"/>
<circle cx="40.0" cy="32.2" r="12.0" fill="url(#gHot)"/>
<circle cx="13.2" cy="16.9" r="9.2" fill="#0612fa" stroke="#000530" stroke-width="0.8"/>
<circle cx="38.0" cy="16.9" r="9.2" fill="#0612fa" stroke="#000530" stroke-width="0.8"/>
<circle cx="25.8" cy="38.3" r="9.0" fill="#0612fa" stroke="#000530" stroke-width="0.8"/>
<circle cx="7.8" cy="-0.9" r="9.7" fill="#0612fa" stroke="#000530" stroke-width="0.8"/>
<circle cx="43.4" cy="-0.9" r="9.7" fill="#0612fa" stroke="#000530" stroke-width="0.8"/>
<circle cx="-6.5" cy="26.0" r="9.2" fill="#0612fa" stroke="#000530" stroke-width="0.8"/>
<circle cx="57.5" cy="26.0" r="9.2" fill="#0612fa" stroke="#000530" stroke-width="0.8"/>
<circle cx="0.5" cy="47.0" r="9.0" fill="#0612fa" stroke="#000530" stroke-width="0.8"/>
<circle cx="50.5" cy="47.0" r="9.0" fill="#0612fa" stroke="#000530" stroke-width="0.8"/>
<circle cx="11.2" cy="15.1" r="6.2" fill="none" stroke="#000530" stroke-width="0.7"/>
<circle cx="40.1" cy="15.1" r="6.1" fill="none" stroke="#000530" stroke-width="0.7"/>
<circle cx="25.8" cy="41.4" r="6.7" fill="none" stroke="#000530" stroke-width="0.7"/>
<circle cx="6.0" cy="-2.8" r="6.5" fill="none" stroke="#000530" stroke-width="0.7"/>
<circle cx="45.2" cy="-2.8" r="6.5" fill="none" stroke="#000530" stroke-width="0.7"/>
<circle cx="-9.0" cy="27.5" r="6.2" fill="none" stroke="#000530" stroke-width="0.7"/>
<circle cx="60.0" cy="27.5" r="6.2" fill="none" stroke="#000530" stroke-width="0.7"/>
<line x1="25.0" y1="7.4" x2="34.7" y2="4.8" stroke="#ff1010" stroke-width="1.1"/>
<polygon points="34.7,4.8 32.4,6.5 31.9,4.4" fill="#ff1010"/>
<line x1="10.6" y1="32.5" x2="20.1" y2="29.4" stroke="#ff1010" stroke-width="1.1"/>
<polygon points="20.1,29.4 18.0,31.3 17.3,29.2" fill="#ff1010"/>
<line x1="40.0" y1="32.2" x2="49.5" y2="29.1" stroke="#ff1010" stroke-width="1.1"/>
<polygon points="49.5,29.1 47.4,31.0 46.7,28.9" fill="#ff1010"/>
</g></g></g>
<text x="121.4" y="97.2" font-size="12.20" text-anchor="start" font-style="italic" fill="#000">LP</text>
<text x="135.7" y="99.6" font-size="7.60" text-anchor="start" fill="#000">01</text>
<text x="136.5" y="91.6" font-size="7.60" text-anchor="start" fill="#000">1</text>
<text x="176.0" y="97.2" font-size="12.20" text-anchor="start" font-style="italic" fill="#000">LP</text>
<text x="190.3" y="99.6" font-size="7.60" text-anchor="start" fill="#000">01</text>
<text x="191.1" y="91.6" font-size="7.60" text-anchor="start" fill="#000">2</text>
<text x="230.9" y="97.2" font-size="12.20" text-anchor="start" font-style="italic" fill="#000">LP</text>
<text x="245.2" y="99.6" font-size="7.60" text-anchor="start" fill="#000">01</text>
<text x="246.0" y="91.6" font-size="7.60" text-anchor="start" fill="#000">3</text>
<text x="326.5" y="97.2" font-size="12.20" text-anchor="start" font-style="italic" fill="#000">LP</text>
<text x="340.8" y="99.6" font-size="7.60" text-anchor="start" fill="#000">01</text>
<text x="341.6" y="91.6" font-size="7.60" text-anchor="start" fill="#000">1</text>
<text x="381.5" y="97.2" font-size="12.20" text-anchor="start" font-style="italic" fill="#000">LP</text>
<text x="395.8" y="99.6" font-size="7.60" text-anchor="start" fill="#000">01</text>
<text x="396.6" y="91.6" font-size="7.60" text-anchor="start" fill="#000">2</text>
<text x="436.5" y="97.2" font-size="12.20" text-anchor="start" font-style="italic" fill="#000">LP</text>
<text x="450.8" y="99.6" font-size="7.60" text-anchor="start" fill="#000">01</text>
<text x="451.6" y="91.6" font-size="7.60" text-anchor="start" fill="#000">3</text>
<text x="95.8" y="129.6" font-size="12.20" text-anchor="middle" font-style="italic" fill="#000">x</text>
<text x="95.8" y="177.5" font-size="12.20" text-anchor="middle" font-style="italic" fill="#000">y</text>
<text x="303.2" y="129.6" font-size="12.20" text-anchor="middle" font-style="italic" fill="#000">x</text>
<text x="303.2" y="177.5" font-size="12.20" text-anchor="middle" font-style="italic" fill="#000">y</text>
<text x="185.0" y="217.7" font-size="12.60" text-anchor="middle" fill="#111">Weakly coupled</text>
<text x="391.3" y="217.9" font-size="12.60" text-anchor="middle" fill="#111">Strongly coupled</text>
<clipPath id="plotclip"><rect x="39.1" y="22.3" width="466.5" height="278.7"/></clipPath>
<g clip-path="url(#plotclip)">
<path d="M39.3,201.6 C40.9,203.1 45.8,207.9 48.9,210.8 C52.0,213.7 54.6,216.2 58.1,218.9 C61.6,221.6 65.9,224.9 69.7,227.0 C73.5,229.1 77.7,230.2 81.2,231.6 C84.7,233.0 87.8,234.4 90.5,235.2 C93.2,236.0 95.1,235.8 97.4,236.6 C99.7,237.4 101.3,239.0 104.4,240.3 C107.5,241.6 112.1,243.2 115.9,244.5 C119.8,245.8 123.7,246.5 127.5,247.8 C131.3,249.1 135.0,250.8 139.0,252.3 C143.0,253.8 147.6,255.8 151.6,257.0 C155.6,258.2 159.2,258.8 163.1,259.6 C166.9,260.4 170.8,261.0 174.7,261.8 C178.5,262.6 182.3,263.7 186.2,264.4 C190.0,265.1 193.9,265.6 197.8,266.1 C201.7,266.7 205.6,267.2 209.4,267.7 C213.2,268.2 217.1,268.4 220.9,269.0 C224.8,269.6 228.7,270.4 232.5,271.2 C236.3,272.0 240.8,273.0 244.0,273.9 C247.2,274.8 248.4,275.9 251.6,276.3 C254.8,276.8 259.2,276.5 263.1,276.6 C267.0,276.7 270.9,276.3 274.7,276.7 C278.5,277.1 282.9,278.4 286.2,279.1 C289.5,279.8 292.8,280.4 294.3,281.0 C295.8,281.6 294.8,282.7 295.0,282.5 C295.2,282.3 292.9,280.0 295.3,279.8 C297.7,279.6 303.2,280.6 309.4,281.2 C315.6,281.8 324.1,282.8 332.5,283.6 C340.9,284.4 350.6,285.5 360.0,286.1 C369.4,286.7 376.8,286.8 389.0,287.4 C401.2,288.0 420.0,289.2 433.5,290.0 C447.0,290.8 458.1,291.5 470.0,292.2 C481.9,292.9 499.2,293.9 505.0,294.3" fill="none" stroke="#0076c6" stroke-width="1.5" stroke-linejoin="round" stroke-linecap="butt"/>
<path d="M39.3,100.8 C40.0,103.2 41.5,109.0 43.7,115.0 C45.9,121.0 49.6,130.1 52.5,136.8 C55.4,143.5 58.3,149.6 61.2,155.4 C64.1,161.2 67.1,166.6 70.0,171.7 C72.9,176.8 75.6,181.4 78.7,186.0 C81.8,190.6 86.2,196.5 88.5,199.5 C90.8,202.5 90.1,201.1 92.8,204.2 C95.5,207.3 100.6,214.2 104.4,218.0 C108.2,221.8 112.1,224.2 115.9,227.0 C119.8,229.8 123.7,231.9 127.5,234.5 C131.3,237.1 135.0,240.2 139.0,242.6 C143.0,245.0 147.6,247.1 151.6,249.0 C155.6,250.9 159.2,252.4 163.1,254.3 C166.9,256.2 170.8,258.5 174.7,260.2 C178.5,261.9 182.3,262.9 186.2,264.4 C190.0,265.9 193.9,267.9 197.8,269.4 C201.7,270.9 205.6,272.3 209.4,273.2 C213.2,274.1 217.1,274.2 220.9,274.6 C224.8,275.0 228.7,274.7 232.5,275.4 C236.3,276.2 240.8,278.2 244.0,279.1 C247.2,280.0 248.4,280.2 251.6,280.8 C254.8,281.4 259.2,282.4 263.1,282.9 C267.0,283.4 270.9,283.4 274.7,283.8 C278.5,284.2 282.9,284.7 286.2,285.1 C289.5,285.5 292.8,286.6 294.3,286.0 C295.8,285.4 295.1,282.5 295.3,281.5 C295.5,280.5 293.0,279.9 295.3,279.8 C297.6,279.8 303.2,280.6 309.4,281.2 C315.6,281.8 324.1,282.8 332.5,283.6 C340.9,284.4 350.6,285.5 360.0,286.1 C369.4,286.7 376.8,286.8 389.0,287.4 C401.2,288.0 420.0,289.2 433.5,290.0 C447.0,290.8 458.1,291.5 470.0,292.2 C481.9,292.9 499.2,293.9 505.0,294.3" fill="none" stroke="#0076c6" stroke-width="1.5" stroke-linejoin="round" stroke-linecap="butt"/>
<path d="M39.3,100.8 C40.0,103.2 41.5,109.0 43.7,115.0 C45.9,121.0 49.6,130.1 52.5,136.8 C55.4,143.5 58.3,149.6 61.2,155.4 C64.1,161.2 67.1,166.6 70.0,171.7 C72.9,176.8 75.6,181.4 78.7,186.0 C81.8,190.6 86.2,196.3 88.5,199.5 C90.8,202.7 90.1,202.0 92.8,205.0 C95.5,208.0 100.6,214.0 104.4,217.7 C108.2,221.4 112.1,224.1 115.9,227.0 C119.8,229.9 123.7,232.6 127.5,235.1 C131.3,237.6 135.0,239.5 139.0,242.0 C143.0,244.5 147.6,247.8 151.6,250.0 C155.6,252.2 159.2,253.5 163.1,255.1 C166.9,256.7 170.8,258.2 174.7,259.8 C178.5,261.4 182.3,262.9 186.2,264.4 C190.0,265.9 193.9,267.3 197.8,268.6 C201.7,269.9 205.6,271.1 209.4,272.0 C213.2,272.9 217.1,273.5 220.9,274.3 C224.8,275.1 228.7,275.7 232.5,276.6 C236.3,277.5 240.8,279.1 244.0,279.7 C247.2,280.3 248.4,279.9 251.6,280.3 C254.8,280.7 259.2,281.6 263.1,282.1 C267.0,282.6 270.9,283.2 274.7,283.5 C278.5,283.8 282.9,283.9 286.2,283.9 C289.5,283.9 292.9,283.5 294.3,283.4" fill="none" stroke="#f0602a" stroke-width="0.8" stroke-linejoin="round" stroke-linecap="butt"/>
<path d="M39.3,100.8 C40.0,103.2 41.5,109.0 43.7,115.0 C45.9,121.0 49.6,130.1 52.5,136.8 C55.4,143.5 58.3,149.6 61.2,155.4 C64.1,161.2 67.1,166.6 70.0,171.7 C72.9,176.8 75.6,181.4 78.7,186.0 C81.8,190.6 86.2,196.3 88.5,199.5 C90.8,202.7 90.1,202.0 92.8,205.0 C95.5,208.0 100.6,214.0 104.4,217.7 C108.2,221.4 112.1,224.1 115.9,227.0 C119.8,229.9 123.7,232.6 127.5,235.1 C131.3,237.6 135.0,239.5 139.0,242.0 C143.0,244.5 147.6,247.8 151.6,250.0 C155.6,252.2 159.2,253.5 163.1,255.1 C166.9,256.7 170.8,258.2 174.7,259.8 C178.5,261.4 182.3,262.9 186.2,264.4 C190.0,265.9 193.9,267.3 197.8,268.6 C201.7,269.9 205.6,271.1 209.4,272.0 C213.2,272.9 217.1,273.5 220.9,274.3 C224.8,275.1 228.7,275.7 232.5,276.6 C236.3,277.5 240.8,279.1 244.0,279.7 C247.2,280.3 248.4,279.9 251.6,280.3 C254.8,280.7 259.2,281.6 263.1,282.1 C267.0,282.6 270.9,283.2 274.7,283.5 C278.5,283.8 282.9,283.9 286.2,283.9 C289.5,283.9 292.9,283.5 294.3,283.4" fill="none" stroke="#6ab42a" stroke-width="0.8" stroke-linejoin="round" stroke-linecap="butt"/>
<path d="M39.3,201.6 C40.9,203.1 45.8,207.9 48.9,210.8 C52.0,213.7 54.6,216.2 58.1,218.9 C61.6,221.6 65.9,224.8 69.7,227.0 C73.5,229.2 77.7,230.4 81.2,231.9 C84.7,233.4 87.8,234.9 90.5,236.2 C93.2,237.5 95.1,238.6 97.4,239.6 C99.7,240.6 101.3,241.1 104.4,242.0 C107.5,242.9 112.1,244.1 115.9,245.1 C119.8,246.1 123.7,246.8 127.5,247.8 C131.3,248.9 135.0,250.2 139.0,251.4 C143.0,252.7 147.6,254.1 151.6,255.3 C155.6,256.5 159.2,257.5 163.1,258.5 C166.9,259.5 170.8,260.2 174.7,261.2 C178.5,262.2 182.3,263.8 186.2,264.4 C190.0,265.0 193.9,264.6 197.8,265.0 C201.7,265.4 205.6,266.1 209.4,266.8 C213.2,267.5 217.1,268.2 220.9,269.0 C224.8,269.8 228.7,271.1 232.5,271.8 C236.3,272.5 240.8,272.9 244.0,273.3 C247.2,273.7 248.4,274.1 251.6,274.4 C254.8,274.7 259.2,275.1 263.1,275.3 C267.0,275.5 270.9,275.1 274.7,275.5 C278.5,275.9 282.9,277.0 286.2,277.7 C289.5,278.4 292.8,278.5 294.3,279.4 C295.8,280.3 294.9,281.9 295.1,283.0 C295.3,284.1 292.9,285.4 295.3,286.3 C297.7,287.2 303.2,287.5 309.4,288.2 C315.6,288.9 324.1,289.7 332.5,290.5 C340.9,291.3 350.6,292.4 360.0,293.0 C369.4,293.6 376.8,293.4 389.0,293.8 C401.2,294.2 420.0,295.1 433.5,295.6 C447.0,296.1 458.1,296.3 470.0,296.6 C481.9,296.9 499.2,297.4 505.0,297.5" fill="none" stroke="#a030b0" stroke-width="1.5" stroke-linejoin="round" stroke-linecap="butt"/>
<path d="M39.3,100.8 C40.0,103.2 41.5,109.0 43.7,115.0 C45.9,121.0 49.6,130.1 52.5,136.8 C55.4,143.5 58.3,149.6 61.2,155.4 C64.1,161.2 67.1,166.6 70.0,171.7 C72.9,176.8 75.6,181.4 78.7,186.0 C81.8,190.6 86.2,196.3 88.5,199.5 C90.8,202.7 90.1,202.0 92.8,205.0 C95.5,208.0 100.6,214.0 104.4,217.7 C108.2,221.4 112.1,224.1 115.9,227.0 C119.8,229.9 123.7,232.6 127.5,235.1 C131.3,237.6 135.0,239.5 139.0,242.0 C143.0,244.5 147.6,247.8 151.6,250.0 C155.6,252.2 159.2,253.5 163.1,255.1 C166.9,256.7 170.8,258.2 174.7,259.8 C178.5,261.4 182.3,262.9 186.2,264.4 C190.0,265.9 193.9,267.3 197.8,268.6 C201.7,269.9 205.6,271.1 209.4,272.0 C213.2,272.9 217.1,273.5 220.9,274.3 C224.8,275.1 228.7,275.7 232.5,276.6 C236.3,277.5 240.8,279.1 244.0,279.7 C247.2,280.3 248.4,279.9 251.6,280.3 C254.8,280.7 259.2,281.6 263.1,282.1 C267.0,282.6 270.9,283.2 274.7,283.5 C278.5,283.8 282.9,283.9 286.2,283.9 C289.5,283.9 292.8,283.7 294.3,283.4 C295.8,283.1 292.8,282.0 295.3,282.0 C297.8,282.0 303.2,282.8 309.4,283.4 C315.6,284.0 324.1,285.0 332.5,285.8 C340.9,286.6 350.6,287.8 360.0,288.4 C369.4,289.0 376.8,289.1 389.0,289.7 C401.2,290.3 420.0,291.4 433.5,292.2 C447.0,292.9 458.1,293.5 470.0,294.2 C481.9,294.9 499.2,295.9 505.0,296.2" fill="none" stroke="#ffa60c" stroke-width="1.5" stroke-linejoin="round" stroke-linecap="butt"/>
<path d="M39.3,201.6 C40.9,203.1 45.8,207.9 48.9,210.8 C52.0,213.7 54.6,216.2 58.1,218.9 C61.6,221.6 65.9,224.9 69.7,227.0 C73.5,229.1 77.7,230.3 81.2,231.6 C84.7,232.9 87.8,233.9 90.5,234.6 C93.2,235.3 95.1,234.8 97.4,235.6 C99.7,236.4 101.3,238.2 104.4,239.7 C107.5,241.1 112.1,243.0 115.9,244.3 C119.8,245.7 123.7,246.5 127.5,247.8 C131.3,249.1 135.0,250.6 139.0,252.0 C143.0,253.4 147.6,255.3 151.6,256.5 C155.6,257.7 159.2,258.4 163.1,259.3 C166.9,260.2 170.8,260.8 174.7,261.6 C178.5,262.5 182.3,263.7 186.2,264.4 C190.0,265.1 193.9,265.3 197.8,265.8 C201.7,266.3 205.6,266.9 209.4,267.4 C213.2,267.9 217.1,268.1 220.9,268.6 C224.8,269.1 228.7,269.7 232.5,270.4 C236.3,271.1 240.8,272.0 244.0,272.7 C247.2,273.4 248.4,274.2 251.6,274.7 C254.8,275.2 259.2,275.5 263.1,275.8 C267.0,276.1 270.9,275.9 274.7,276.5 C278.5,277.1 282.9,278.4 286.2,279.3 C289.5,280.2 292.8,281.0 294.3,281.6 C295.8,282.2 294.8,282.6 295.0,283.0 C295.2,283.4 292.9,283.6 295.3,284.0 C297.7,284.4 303.2,284.8 309.4,285.4 C315.6,286.0 324.1,286.7 332.5,287.5 C340.9,288.3 350.6,289.7 360.0,290.4 C369.4,291.1 376.8,290.9 389.0,291.6 C401.2,292.3 420.0,293.7 433.5,294.6 C447.0,295.5 458.1,296.2 470.0,297.0 C481.9,297.8 499.2,298.8 505.0,299.2" fill="none" stroke="#1ebcf0" stroke-width="1.5" stroke-linejoin="round" stroke-linecap="butt"/>
</g>
<rect x="39.1" y="22.3" width="465.9" height="278.7" fill="none" stroke="#3a3a3a" stroke-width="1.1"/>
<line x1="74.9" y1="301.0" x2="74.9" y2="296.8" stroke="#3a3a3a" stroke-width="0.9"/>
<line x1="74.9" y1="22.3" x2="74.9" y2="26.5" stroke="#3a3a3a" stroke-width="0.9"/>
<text x="74.9" y="316.2" font-size="11.80" text-anchor="middle" fill="#262626">5</text>
<line x1="146.6" y1="301.0" x2="146.6" y2="296.8" stroke="#3a3a3a" stroke-width="0.9"/>
<line x1="146.6" y1="22.3" x2="146.6" y2="26.5" stroke="#3a3a3a" stroke-width="0.9"/>
<text x="146.6" y="316.2" font-size="11.80" text-anchor="middle" fill="#262626">10</text>
<line x1="218.3" y1="301.0" x2="218.3" y2="296.8" stroke="#3a3a3a" stroke-width="0.9"/>
<line x1="218.3" y1="22.3" x2="218.3" y2="26.5" stroke="#3a3a3a" stroke-width="0.9"/>
<text x="218.3" y="316.2" font-size="11.80" text-anchor="middle" fill="#262626">15</text>
<line x1="290.0" y1="301.0" x2="290.0" y2="296.8" stroke="#3a3a3a" stroke-width="0.9"/>
<line x1="290.0" y1="22.3" x2="290.0" y2="26.5" stroke="#3a3a3a" stroke-width="0.9"/>
<text x="290.0" y="316.2" font-size="11.80" text-anchor="middle" fill="#262626">20</text>
<line x1="361.6" y1="301.0" x2="361.6" y2="296.8" stroke="#3a3a3a" stroke-width="0.9"/>
<line x1="361.6" y1="22.3" x2="361.6" y2="26.5" stroke="#3a3a3a" stroke-width="0.9"/>
<text x="361.6" y="316.2" font-size="11.80" text-anchor="middle" fill="#262626">25</text>
<line x1="433.3" y1="301.0" x2="433.3" y2="296.8" stroke="#3a3a3a" stroke-width="0.9"/>
<line x1="433.3" y1="22.3" x2="433.3" y2="26.5" stroke="#3a3a3a" stroke-width="0.9"/>
<text x="433.3" y="316.2" font-size="11.80" text-anchor="middle" fill="#262626">30</text>
<text x="505.0" y="316.2" font-size="11.80" text-anchor="middle" fill="#262626">35</text>
<text x="34.4" y="304.9" font-size="11.80" text-anchor="end" fill="#262626">0</text>
<line x1="39.1" y1="274.4" x2="43.3" y2="274.4" stroke="#3a3a3a" stroke-width="0.9"/>
<line x1="505.0" y1="274.4" x2="500.8" y2="274.4" stroke="#3a3a3a" stroke-width="0.9"/>
<text x="34.4" y="278.3" font-size="11.80" text-anchor="end" fill="#262626">1</text>
<line x1="39.1" y1="247.8" x2="43.3" y2="247.8" stroke="#3a3a3a" stroke-width="0.9"/>
<line x1="505.0" y1="247.8" x2="500.8" y2="247.8" stroke="#3a3a3a" stroke-width="0.9"/>
<text x="34.4" y="251.7" font-size="11.80" text-anchor="end" fill="#262626">2</text>
<line x1="39.1" y1="221.2" x2="43.3" y2="221.2" stroke="#3a3a3a" stroke-width="0.9"/>
<line x1="505.0" y1="221.2" x2="500.8" y2="221.2" stroke="#3a3a3a" stroke-width="0.9"/>
<text x="34.4" y="225.1" font-size="11.80" text-anchor="end" fill="#262626">3</text>
<line x1="39.1" y1="194.6" x2="43.3" y2="194.6" stroke="#3a3a3a" stroke-width="0.9"/>
<line x1="505.0" y1="194.6" x2="500.8" y2="194.6" stroke="#3a3a3a" stroke-width="0.9"/>
<text x="34.4" y="198.5" font-size="11.80" text-anchor="end" fill="#262626">4</text>
<line x1="39.1" y1="168.0" x2="43.3" y2="168.0" stroke="#3a3a3a" stroke-width="0.9"/>
<line x1="505.0" y1="168.0" x2="500.8" y2="168.0" stroke="#3a3a3a" stroke-width="0.9"/>
<text x="34.4" y="171.9" font-size="11.80" text-anchor="end" fill="#262626">5</text>
<line x1="39.1" y1="141.4" x2="43.3" y2="141.4" stroke="#3a3a3a" stroke-width="0.9"/>
<line x1="505.0" y1="141.4" x2="500.8" y2="141.4" stroke="#3a3a3a" stroke-width="0.9"/>
<text x="34.4" y="145.3" font-size="11.80" text-anchor="end" fill="#262626">6</text>
<line x1="39.1" y1="114.8" x2="43.3" y2="114.8" stroke="#3a3a3a" stroke-width="0.9"/>
<line x1="505.0" y1="114.8" x2="500.8" y2="114.8" stroke="#3a3a3a" stroke-width="0.9"/>
<text x="34.4" y="118.7" font-size="11.80" text-anchor="end" fill="#262626">7</text>
<line x1="39.1" y1="88.2" x2="43.3" y2="88.2" stroke="#3a3a3a" stroke-width="0.9"/>
<line x1="505.0" y1="88.2" x2="500.8" y2="88.2" stroke="#3a3a3a" stroke-width="0.9"/>
<text x="34.4" y="92.1" font-size="11.80" text-anchor="end" fill="#262626">8</text>
<line x1="39.1" y1="61.6" x2="43.3" y2="61.6" stroke="#3a3a3a" stroke-width="0.9"/>
<line x1="505.0" y1="61.6" x2="500.8" y2="61.6" stroke="#3a3a3a" stroke-width="0.9"/>
<text x="34.4" y="65.5" font-size="11.80" text-anchor="end" fill="#262626">9</text>
<line x1="39.1" y1="35.0" x2="43.3" y2="35.0" stroke="#3a3a3a" stroke-width="0.9"/>
<line x1="505.0" y1="35.0" x2="500.8" y2="35.0" stroke="#3a3a3a" stroke-width="0.9"/>
<text x="34.4" y="38.9" font-size="11.80" text-anchor="end" fill="#262626">10</text>
<text x="40.0" y="16.7" font-size="13.80" text-anchor="start" fill="#262626">×10</text>
<text x="62.8" y="12.5" font-size="10.00" text-anchor="start" fill="#262626">−2</text>
<text x="253.2" y="333.3" font-size="12.2" fill="#262626" textLength="36.6" lengthAdjust="spacing">g (<tspan font-style="italic">μ</tspan>m)</text>
<text transform="translate(15.4,193.2) rotate(-90)" font-size="12.2" fill="#262626" textLength="63.6" lengthAdjust="spacing"><tspan font-style="italic">CL</tspan> (dB/km)</text>
<line x1="353.6" y1="238.8" x2="362.9" y2="238.8" stroke="#0076c6" stroke-width="1.7"/>
<text x="365.5" y="242.1" font-size="12.60" text-anchor="start" font-style="italic" fill="#111" letter-spacing="0.25">LP</text>
<text x="381.0" y="235.9" font-size="7.40" text-anchor="start" fill="#111">1,x</text>
<text x="381.6" y="248.8" font-size="7.40" text-anchor="start" fill="#111">01</text>
<line x1="395.9" y1="238.8" x2="405.2" y2="238.8" stroke="#f0602a" stroke-width="1.7"/>
<text x="407.8" y="242.1" font-size="12.60" text-anchor="start" font-style="italic" fill="#111" letter-spacing="0.25">LP</text>
<text x="423.3" y="235.9" font-size="7.40" text-anchor="start" fill="#111">2,x</text>
<text x="423.9" y="248.8" font-size="7.40" text-anchor="start" fill="#111">01</text>
<line x1="437.9" y1="238.8" x2="447.2" y2="238.8" stroke="#6ab42a" stroke-width="1.7"/>
<text x="449.8" y="242.1" font-size="12.60" text-anchor="start" font-style="italic" fill="#111" letter-spacing="0.25">LP</text>
<text x="465.3" y="235.9" font-size="7.40" text-anchor="start" fill="#111">3,x</text>
<text x="465.9" y="248.8" font-size="7.40" text-anchor="start" fill="#111">01</text>
<line x1="353.6" y1="265.6" x2="362.9" y2="265.6" stroke="#a030b0" stroke-width="1.7"/>
<text x="365.5" y="268.9" font-size="12.60" text-anchor="start" font-style="italic" fill="#111" letter-spacing="0.25">LP</text>
<text x="381.0" y="262.7" font-size="7.40" text-anchor="start" fill="#111">1,y</text>
<text x="381.6" y="275.6" font-size="7.40" text-anchor="start" fill="#111">01</text>
<line x1="395.9" y1="265.6" x2="405.2" y2="265.6" stroke="#ffa60c" stroke-width="1.7"/>
<text x="407.8" y="268.9" font-size="12.60" text-anchor="start" font-style="italic" fill="#111" letter-spacing="0.25">LP</text>
<text x="423.3" y="262.7" font-size="7.40" text-anchor="start" fill="#111">2,y</text>
<text x="423.9" y="275.6" font-size="7.40" text-anchor="start" fill="#111">01</text>
<line x1="437.9" y1="265.6" x2="447.2" y2="265.6" stroke="#1ebcf0" stroke-width="1.7"/>
<text x="449.8" y="268.9" font-size="12.60" text-anchor="start" font-style="italic" fill="#111" letter-spacing="0.25">LP</text>
<text x="465.3" y="262.7" font-size="7.40" text-anchor="start" fill="#111">3,y</text>
<text x="465.9" y="275.6" font-size="7.40" text-anchor="start" fill="#111">01</text>
<text x="261.8" y="360.3" font-size="15.4" text-anchor="middle" fill="#111">(<tspan font-weight="bold">a</tspan>)</text>
<text x="129.3" y="541.9" font-size="15.8" text-anchor="middle" fill="#111">(<tspan font-weight="bold">b</tspan>)</text>
<text x="395.6" y="541.9" font-size="15.8" text-anchor="middle" fill="#111">(<tspan font-weight="bold">c</tspan>)</text>
<mask id="mk_weak" maskUnits="userSpaceOnUse" x="-12" y="-12" width="96" height="96">
<rect x="-12" y="-12" width="96" height="96" fill="#fff"/>
<circle cx="10.9" cy="4.0" r="12.3" fill="#000"/>
<circle cx="51.7" cy="4.0" r="12.3" fill="#000"/>
<circle cx="31.3" cy="-3.7" r="7.8" fill="#000"/>
<circle cx="17.4" cy="26.4" r="12.2" fill="#000"/>
<circle cx="45.2" cy="26.4" r="12.2" fill="#000"/>
<circle cx="31.3" cy="48.2" r="12.0" fill="#000"/>
<circle cx="-5.3" cy="32.6" r="12.2" fill="#000"/>
<circle cx="67.9" cy="32.6" r="12.2" fill="#000"/>
<circle cx="-4.6" cy="54.2" r="11.4" fill="#000"/>
<circle cx="67.2" cy="54.2" r="11.4" fill="#000"/>
<circle cx="13.9" cy="64.6" r="11.4" fill="#000"/>
<circle cx="48.7" cy="64.6" r="11.4" fill="#000"/>
</mask>
<clipPath id="pp_weak"><polygon points="10.9,4.0 31.3,-3.7 51.7,4.0 45.2,26.4 67.9,32.6 67.2,54.2 48.7,65.0 31.3,48.2 13.9,65.0 -4.6,54.2 -5.3,32.6 17.4,26.4"/></clipPath>
<mask id="mk_strong" maskUnits="userSpaceOnUse" x="-12" y="-12" width="96" height="96">
<rect x="-12" y="-12" width="96" height="96" fill="#fff"/>
<circle cx="11.2" cy="0.7" r="11.6" fill="#000"/>
<circle cx="50.4" cy="0.7" r="11.4" fill="#000"/>
<circle cx="30.8" cy="-3.4" r="6.9" fill="#000"/>
<circle cx="15.1" cy="23.9" r="11.8" fill="#000"/>
<circle cx="46.6" cy="23.9" r="11.8" fill="#000"/>
<circle cx="30.8" cy="49.9" r="11.5" fill="#000"/>
<circle cx="-6.7" cy="31.7" r="11.5" fill="#000"/>
<circle cx="68.3" cy="31.7" r="11.5" fill="#000"/>
<circle cx="-4.7" cy="52.0" r="11.0" fill="#000"/>
<circle cx="66.3" cy="52.0" r="11.0" fill="#000"/>
<circle cx="13.5" cy="62.7" r="8.1" fill="#000"/>
<circle cx="48.1" cy="62.7" r="8.1" fill="#000"/>
</mask>
<clipPath id="pp_strong"><polygon points="11.2,0.7 30.8,-3.4 50.4,0.7 46.6,23.9 68.3,31.7 63.6,58.0 63.6,70.0 -2.0,70.0 -2.0,58.0 -6.7,31.7 15.1,23.9"/></clipPath>
<g transform="translate(21.8,390.2)">
<clipPath id="pc0"><rect x="0.20" y="-0.20" width="62" height="58"/></clipPath>
<g clip-path="url(#pc0)">
<circle cx="17.4" cy="26.4" r="10.9" fill="none" stroke="#2a2a2a" stroke-width="0.6"/>
<circle cx="45.2" cy="26.4" r="10.9" fill="none" stroke="#2a2a2a" stroke-width="0.6"/>
<circle cx="31.3" cy="49.8" r="10.8" fill="none" stroke="#2a2a2a" stroke-width="0.6"/>
<circle cx="12.5" cy="3.7" r="11.8" fill="none" stroke="#2a2a2a" stroke-width="0.6"/>
<circle cx="50.1" cy="3.7" r="11.8" fill="none" stroke="#2a2a2a" stroke-width="0.6"/>
<circle cx="-8.9" cy="28.2" r="10.9" fill="none" stroke="#2a2a2a" stroke-width="0.6"/>
<circle cx="71.5" cy="28.2" r="10.9" fill="none" stroke="#2a2a2a" stroke-width="0.6"/>
<circle cx="-5.0" cy="58.0" r="10.8" fill="none" stroke="#2a2a2a" stroke-width="0.6"/>
<circle cx="67.6" cy="58.0" r="10.8" fill="none" stroke="#2a2a2a" stroke-width="0.6"/>
<circle cx="15.2" cy="24.3" r="7.4" fill="none" stroke="#2a2a2a" stroke-width="0.55"/>
<circle cx="47.4" cy="24.3" r="7.4" fill="none" stroke="#2a2a2a" stroke-width="0.55"/>
<circle cx="31.3" cy="53.9" r="6.9" fill="none" stroke="#2a2a2a" stroke-width="0.55"/>
<circle cx="10.1" cy="1.7" r="8.1" fill="none" stroke="#2a2a2a" stroke-width="0.55"/>
<circle cx="52.5" cy="1.7" r="8.1" fill="none" stroke="#2a2a2a" stroke-width="0.55"/>
<g mask="url(#mk_weak)"><g clip-path="url(#pp_weak)">
<rect x="-10.0" y="-10.0" width="82.6" height="43.6" fill="#0a80f8"/>
<rect x="-10.0" y="33.6" width="82.6" height="33.8" fill="#f8800a"/>
</g></g>
</g></g>
<g transform="translate(87.4,390.2)">
<clipPath id="pc1"><rect x="-0.40" y="-0.20" width="63" height="58"/></clipPath>
<g clip-path="url(#pc1)">
<circle cx="17.4" cy="26.4" r="10.9" fill="none" stroke="#2a2a2a" stroke-width="0.6"/>
<circle cx="45.2" cy="26.4" r="10.9" fill="none" stroke="#2a2a2a" stroke-width="0.6"/>
<circle cx="31.3" cy="49.8" r="10.8" fill="none" stroke="#2a2a2a" stroke-width="0.6"/>
<circle cx="12.5" cy="3.7" r="11.8" fill="none" stroke="#2a2a2a" stroke-width="0.6"/>
<circle cx="50.1" cy="3.7" r="11.8" fill="none" stroke="#2a2a2a" stroke-width="0.6"/>
<circle cx="-8.9" cy="28.2" r="10.9" fill="none" stroke="#2a2a2a" stroke-width="0.6"/>
<circle cx="71.5" cy="28.2" r="10.9" fill="none" stroke="#2a2a2a" stroke-width="0.6"/>
<circle cx="-5.0" cy="58.0" r="10.8" fill="none" stroke="#2a2a2a" stroke-width="0.6"/>
<circle cx="67.6" cy="58.0" r="10.8" fill="none" stroke="#2a2a2a" stroke-width="0.6"/>
<circle cx="15.2" cy="24.3" r="7.4" fill="none" stroke="#2a2a2a" stroke-width="0.55"/>
<circle cx="47.4" cy="24.3" r="7.4" fill="none" stroke="#2a2a2a" stroke-width="0.55"/>
<circle cx="31.3" cy="53.9" r="6.9" fill="none" stroke="#2a2a2a" stroke-width="0.55"/>
<circle cx="10.1" cy="1.7" r="8.1" fill="none" stroke="#2a2a2a" stroke-width="0.55"/>
<circle cx="52.5" cy="1.7" r="8.1" fill="none" stroke="#2a2a2a" stroke-width="0.55"/>
<g mask="url(#mk_weak)"><g clip-path="url(#pp_weak)">
<rect x="-10.0" y="-10.0" width="82.6" height="77.4" fill="#0a80f8"/>
</g></g>
</g></g>
<g transform="translate(152.6,390.2)">
<clipPath id="pc2"><rect x="0.40" y="-0.20" width="62" height="58"/></clipPath>
<g clip-path="url(#pc2)">
<circle cx="17.4" cy="26.4" r="10.9" fill="none" stroke="#2a2a2a" stroke-width="0.6"/>
<circle cx="45.2" cy="26.4" r="10.9" fill="none" stroke="#2a2a2a" stroke-width="0.6"/>
<circle cx="31.3" cy="49.8" r="10.8" fill="none" stroke="#2a2a2a" stroke-width="0.6"/>
<circle cx="12.5" cy="3.7" r="11.8" fill="none" stroke="#2a2a2a" stroke-width="0.6"/>
<circle cx="50.1" cy="3.7" r="11.8" fill="none" stroke="#2a2a2a" stroke-width="0.6"/>
<circle cx="-8.9" cy="28.2" r="10.9" fill="none" stroke="#2a2a2a" stroke-width="0.6"/>
<circle cx="71.5" cy="28.2" r="10.9" fill="none" stroke="#2a2a2a" stroke-width="0.6"/>
<circle cx="-5.0" cy="58.0" r="10.8" fill="none" stroke="#2a2a2a" stroke-width="0.6"/>
<circle cx="67.6" cy="58.0" r="10.8" fill="none" stroke="#2a2a2a" stroke-width="0.6"/>
<circle cx="15.2" cy="24.3" r="7.4" fill="none" stroke="#2a2a2a" stroke-width="0.55"/>
<circle cx="47.4" cy="24.3" r="7.4" fill="none" stroke="#2a2a2a" stroke-width="0.55"/>
<circle cx="31.3" cy="53.9" r="6.9" fill="none" stroke="#2a2a2a" stroke-width="0.55"/>
<circle cx="10.1" cy="1.7" r="8.1" fill="none" stroke="#2a2a2a" stroke-width="0.55"/>
<circle cx="52.5" cy="1.7" r="8.1" fill="none" stroke="#2a2a2a" stroke-width="0.55"/>
<g mask="url(#mk_weak)"><g clip-path="url(#pp_weak)">
<rect x="-10.0" y="-10.0" width="82.6" height="77.4" fill="#0a80f8"/>
<polygon points="-10,28 29.3,28 29.3,39 31.3,44 31.3,70 -10,70" fill="#f8800a"/>
</g></g>
</g></g>
<g transform="translate(21.8,452.4)">
<clipPath id="pc3"><rect x="0.20" y="-0.40" width="62" height="58"/></clipPath>
<g clip-path="url(#pc3)">
<circle cx="17.4" cy="26.4" r="10.9" fill="none" stroke="#2a2a2a" stroke-width="0.6"/>
<circle cx="45.2" cy="26.4" r="10.9" fill="none" stroke="#2a2a2a" stroke-width="0.6"/>
<circle cx="31.3" cy="49.8" r="10.8" fill="none" stroke="#2a2a2a" stroke-width="0.6"/>
<circle cx="12.5" cy="3.7" r="11.8" fill="none" stroke="#2a2a2a" stroke-width="0.6"/>
<circle cx="50.1" cy="3.7" r="11.8" fill="none" stroke="#2a2a2a" stroke-width="0.6"/>
<circle cx="-8.9" cy="28.2" r="10.9" fill="none" stroke="#2a2a2a" stroke-width="0.6"/>
<circle cx="71.5" cy="28.2" r="10.9" fill="none" stroke="#2a2a2a" stroke-width="0.6"/>
<circle cx="-5.0" cy="58.0" r="10.8" fill="none" stroke="#2a2a2a" stroke-width="0.6"/>
<circle cx="67.6" cy="58.0" r="10.8" fill="none" stroke="#2a2a2a" stroke-width="0.6"/>
<circle cx="15.2" cy="24.3" r="7.4" fill="none" stroke="#2a2a2a" stroke-width="0.55"/>
<circle cx="47.4" cy="24.3" r="7.4" fill="none" stroke="#2a2a2a" stroke-width="0.55"/>
<circle cx="31.3" cy="53.9" r="6.9" fill="none" stroke="#2a2a2a" stroke-width="0.55"/>
<circle cx="10.1" cy="1.7" r="8.1" fill="none" stroke="#2a2a2a" stroke-width="0.55"/>
<circle cx="52.5" cy="1.7" r="8.1" fill="none" stroke="#2a2a2a" stroke-width="0.55"/>
<g mask="url(#mk_weak)"><g clip-path="url(#pp_weak)">
<rect x="-10.0" y="-10.0" width="82.6" height="77.4" fill="#f8800a"/>
<rect x="32.0" y="29.6" width="60.0" height="60.0" fill="#0a80f8"/>
<polygon points="20,-5 32,-5 32,29.6 24,29.6 24.8,14 26,5.5" fill="#0a80f8"/>
<polygon points="38,5 46,3 47,16 41,14" fill="#0a80f8"/>
</g></g>
</g></g>
<g transform="translate(87.4,452.4)">
<clipPath id="pc4"><rect x="-0.40" y="-0.40" width="63" height="58"/></clipPath>
<g clip-path="url(#pc4)">
<circle cx="17.4" cy="26.4" r="10.9" fill="none" stroke="#2a2a2a" stroke-width="0.6"/>
<circle cx="45.2" cy="26.4" r="10.9" fill="none" stroke="#2a2a2a" stroke-width="0.6"/>
<circle cx="31.3" cy="49.8" r="10.8" fill="none" stroke="#2a2a2a" stroke-width="0.6"/>
<circle cx="12.5" cy="3.7" r="11.8" fill="none" stroke="#2a2a2a" stroke-width="0.6"/>
<circle cx="50.1" cy="3.7" r="11.8" fill="none" stroke="#2a2a2a" stroke-width="0.6"/>
<circle cx="-8.9" cy="28.2" r="10.9" fill="none" stroke="#2a2a2a" stroke-width="0.6"/>
<circle cx="71.5" cy="28.2" r="10.9" fill="none" stroke="#2a2a2a" stroke-width="0.6"/>
<circle cx="-5.0" cy="58.0" r="10.8" fill="none" stroke="#2a2a2a" stroke-width="0.6"/>
<circle cx="67.6" cy="58.0" r="10.8" fill="none" stroke="#2a2a2a" stroke-width="0.6"/>
<circle cx="15.2" cy="24.3" r="7.4" fill="none" stroke="#2a2a2a" stroke-width="0.55"/>
<circle cx="47.4" cy="24.3" r="7.4" fill="none" stroke="#2a2a2a" stroke-width="0.55"/>
<circle cx="31.3" cy="53.9" r="6.9" fill="none" stroke="#2a2a2a" stroke-width="0.55"/>
<circle cx="10.1" cy="1.7" r="8.1" fill="none" stroke="#2a2a2a" stroke-width="0.55"/>
<circle cx="52.5" cy="1.7" r="8.1" fill="none" stroke="#2a2a2a" stroke-width="0.55"/>
<g mask="url(#mk_weak)"><g clip-path="url(#pp_weak)">
<rect x="-10.0" y="-10.0" width="82.6" height="77.4" fill="#f8800a"/>
<polygon points="31.4,-5 45,-5 38.8,4.1 36.5,5.6 35.7,10.3 43.4,13.7 47,17 40,30 31.4,29.5" fill="#0a80f8"/>
<polygon points="15,2 24.1,4.1 25.3,8.7 21.8,13.3 15,16" fill="#0a80f8"/>
</g></g>
</g></g>
<g transform="translate(152.6,452.4)">
<clipPath id="pc5"><rect x="0.40" y="-0.40" width="62" height="58"/></clipPath>
<g clip-path="url(#pc5)">
<circle cx="17.4" cy="26.4" r="10.9" fill="none" stroke="#2a2a2a" stroke-width="0.6"/>
<circle cx="45.2" cy="26.4" r="10.9" fill="none" stroke="#2a2a2a" stroke-width="0.6"/>
<circle cx="31.3" cy="49.8" r="10.8" fill="none" stroke="#2a2a2a" stroke-width="0.6"/>
<circle cx="12.5" cy="3.7" r="11.8" fill="none" stroke="#2a2a2a" stroke-width="0.6"/>
<circle cx="50.1" cy="3.7" r="11.8" fill="none" stroke="#2a2a2a" stroke-width="0.6"/>
<circle cx="-8.9" cy="28.2" r="10.9" fill="none" stroke="#2a2a2a" stroke-width="0.6"/>
<circle cx="71.5" cy="28.2" r="10.9" fill="none" stroke="#2a2a2a" stroke-width="0.6"/>
<circle cx="-5.0" cy="58.0" r="10.8" fill="none" stroke="#2a2a2a" stroke-width="0.6"/>
<circle cx="67.6" cy="58.0" r="10.8" fill="none" stroke="#2a2a2a" stroke-width="0.6"/>
<circle cx="15.2" cy="24.3" r="7.4" fill="none" stroke="#2a2a2a" stroke-width="0.55"/>
<circle cx="47.4" cy="24.3" r="7.4" fill="none" stroke="#2a2a2a" stroke-width="0.55"/>
<circle cx="31.3" cy="53.9" r="6.9" fill="none" stroke="#2a2a2a" stroke-width="0.55"/>
<circle cx="10.1" cy="1.7" r="8.1" fill="none" stroke="#2a2a2a" stroke-width="0.55"/>
<circle cx="52.5" cy="1.7" r="8.1" fill="none" stroke="#2a2a2a" stroke-width="0.55"/>
<g mask="url(#mk_weak)"><g clip-path="url(#pp_weak)">
<rect x="-10.0" y="-10.0" width="82.6" height="77.4" fill="#0a80f8"/>
<polygon points="23.2,-2 30.9,4.1 29,7.2 25.1,5.2 20,3" fill="#f8800a"/>
<polygon points="18,15.5 20.1,14.1 27.1,10.6 30.5,14.9 31.3,21 30.9,28 26,28" fill="#f8800a"/>
<polygon points="39,4.5 42,2 48,15 42.1,12.6 39,8.7" fill="#f8800a"/>
</g></g>
</g></g>
<g transform="translate(288.9,390.2)">
<clipPath id="pc6"><rect x="0.10" y="-0.20" width="61" height="58"/></clipPath>
<g clip-path="url(#pc6)">
<circle cx="15.1" cy="23.9" r="11.6" fill="none" stroke="#2a2a2a" stroke-width="0.6"/>
<circle cx="46.7" cy="23.9" r="11.6" fill="none" stroke="#2a2a2a" stroke-width="0.6"/>
<circle cx="30.9" cy="49.9" r="10.8" fill="none" stroke="#2a2a2a" stroke-width="0.6"/>
<circle cx="11.2" cy="1.3" r="11.0" fill="none" stroke="#2a2a2a" stroke-width="0.6"/>
<circle cx="50.4" cy="1.3" r="11.0" fill="none" stroke="#2a2a2a" stroke-width="0.6"/>
<circle cx="-7.4" cy="30.3" r="12.0" fill="none" stroke="#2a2a2a" stroke-width="0.6"/>
<circle cx="69.0" cy="30.3" r="12.0" fill="none" stroke="#2a2a2a" stroke-width="0.6"/>
<circle cx="12.8" cy="21.6" r="7.4" fill="none" stroke="#2a2a2a" stroke-width="0.55"/>
<circle cx="48.8" cy="21.6" r="7.4" fill="none" stroke="#2a2a2a" stroke-width="0.55"/>
<circle cx="31.1" cy="54.2" r="7.0" fill="none" stroke="#2a2a2a" stroke-width="0.55"/>
<circle cx="10.8" cy="0.0" r="6.8" fill="none" stroke="#2a2a2a" stroke-width="0.55"/>
<circle cx="50.8" cy="0.0" r="6.8" fill="none" stroke="#2a2a2a" stroke-width="0.55"/>
<g mask="url(#mk_strong)"><g clip-path="url(#pp_strong)">
<rect x="-10.0" y="-10.0" width="82.6" height="77.4" fill="#f8800a"/>
<polygon points="-5,-5 66,-5 66,20 36.6,26 35.5,30 33,32.3 30.8,32.8 28.6,32.3 26.2,30 25,26 -5,20" fill="#0a80f8"/>
</g></g>
</g></g>
<g transform="translate(353.8,390.2)">
<clipPath id="pc7"><rect x="0.20" y="-0.20" width="61" height="58"/></clipPath>
<g clip-path="url(#pc7)">
<circle cx="15.1" cy="23.9" r="11.6" fill="none" stroke="#2a2a2a" stroke-width="0.6"/>
<circle cx="46.7" cy="23.9" r="11.6" fill="none" stroke="#2a2a2a" stroke-width="0.6"/>
<circle cx="30.9" cy="49.9" r="10.8" fill="none" stroke="#2a2a2a" stroke-width="0.6"/>
<circle cx="11.2" cy="1.3" r="11.0" fill="none" stroke="#2a2a2a" stroke-width="0.6"/>
<circle cx="50.4" cy="1.3" r="11.0" fill="none" stroke="#2a2a2a" stroke-width="0.6"/>
<circle cx="-7.4" cy="30.3" r="12.0" fill="none" stroke="#2a2a2a" stroke-width="0.6"/>
<circle cx="69.0" cy="30.3" r="12.0" fill="none" stroke="#2a2a2a" stroke-width="0.6"/>
<circle cx="12.8" cy="21.6" r="7.4" fill="none" stroke="#2a2a2a" stroke-width="0.55"/>
<circle cx="48.8" cy="21.6" r="7.4" fill="none" stroke="#2a2a2a" stroke-width="0.55"/>
<circle cx="31.1" cy="54.2" r="7.0" fill="none" stroke="#2a2a2a" stroke-width="0.55"/>
<circle cx="10.8" cy="0.0" r="6.8" fill="none" stroke="#2a2a2a" stroke-width="0.55"/>
<circle cx="50.8" cy="0.0" r="6.8" fill="none" stroke="#2a2a2a" stroke-width="0.55"/>
<g mask="url(#mk_strong)"><g clip-path="url(#pp_strong)">
<rect x="-10.0" y="-10.0" width="82.6" height="77.4" fill="#f8800a"/>
<polygon points="29.2,34 31,30.5 36,28 70,20 70,70 34,70 31,42 29.2,38" fill="#0a80f8"/>
</g></g>
</g></g>
<g transform="translate(418.8,390.2)">
<clipPath id="pc8"><rect x="0.20" y="-0.20" width="61" height="58"/></clipPath>
<g clip-path="url(#pc8)">
<circle cx="15.1" cy="23.9" r="11.6" fill="none" stroke="#2a2a2a" stroke-width="0.6"/>
<circle cx="46.7" cy="23.9" r="11.6" fill="none" stroke="#2a2a2a" stroke-width="0.6"/>
<circle cx="30.9" cy="49.9" r="10.8" fill="none" stroke="#2a2a2a" stroke-width="0.6"/>
<circle cx="11.2" cy="1.3" r="11.0" fill="none" stroke="#2a2a2a" stroke-width="0.6"/>
<circle cx="50.4" cy="1.3" r="11.0" fill="none" stroke="#2a2a2a" stroke-width="0.6"/>
<circle cx="-7.4" cy="30.3" r="12.0" fill="none" stroke="#2a2a2a" stroke-width="0.6"/>
<circle cx="69.0" cy="30.3" r="12.0" fill="none" stroke="#2a2a2a" stroke-width="0.6"/>
<circle cx="12.8" cy="21.6" r="7.4" fill="none" stroke="#2a2a2a" stroke-width="0.55"/>
<circle cx="48.8" cy="21.6" r="7.4" fill="none" stroke="#2a2a2a" stroke-width="0.55"/>
<circle cx="31.1" cy="54.2" r="7.0" fill="none" stroke="#2a2a2a" stroke-width="0.55"/>
<circle cx="10.8" cy="0.0" r="6.8" fill="none" stroke="#2a2a2a" stroke-width="0.55"/>
<circle cx="50.8" cy="0.0" r="6.8" fill="none" stroke="#2a2a2a" stroke-width="0.55"/>
<g mask="url(#mk_strong)"><g clip-path="url(#pp_strong)">
<rect x="-10.0" y="-10.0" width="82.6" height="77.4" fill="#f8800a"/>
</g></g>
</g></g>
<g transform="translate(288.9,452.4)">
<clipPath id="pc9"><rect x="0.10" y="-0.40" width="61" height="58"/></clipPath>
<g clip-path="url(#pc9)">
<circle cx="15.1" cy="23.9" r="11.6" fill="none" stroke="#2a2a2a" stroke-width="0.6"/>
<circle cx="46.7" cy="23.9" r="11.6" fill="none" stroke="#2a2a2a" stroke-width="0.6"/>
<circle cx="30.9" cy="49.9" r="10.8" fill="none" stroke="#2a2a2a" stroke-width="0.6"/>
<circle cx="11.2" cy="1.3" r="11.0" fill="none" stroke="#2a2a2a" stroke-width="0.6"/>
<circle cx="50.4" cy="1.3" r="11.0" fill="none" stroke="#2a2a2a" stroke-width="0.6"/>
<circle cx="-7.4" cy="30.3" r="12.0" fill="none" stroke="#2a2a2a" stroke-width="0.6"/>
<circle cx="69.0" cy="30.3" r="12.0" fill="none" stroke="#2a2a2a" stroke-width="0.6"/>
<circle cx="12.8" cy="21.6" r="7.4" fill="none" stroke="#2a2a2a" stroke-width="0.55"/>
<circle cx="48.8" cy="21.6" r="7.4" fill="none" stroke="#2a2a2a" stroke-width="0.55"/>
<circle cx="31.1" cy="54.2" r="7.0" fill="none" stroke="#2a2a2a" stroke-width="0.55"/>
<circle cx="10.8" cy="0.0" r="6.8" fill="none" stroke="#2a2a2a" stroke-width="0.55"/>
<circle cx="50.8" cy="0.0" r="6.8" fill="none" stroke="#2a2a2a" stroke-width="0.55"/>
<g mask="url(#mk_strong)"><g clip-path="url(#pp_strong)">
<rect x="-10.0" y="-10.0" width="82.6" height="77.4" fill="#f8800a"/>
<rect x="31.7" y="24.3" width="60.0" height="60.0" fill="#0a80f8"/>
<polygon points="22.5,-5 31.7,-5 31.7,24.3 25,24.3 24,12 24.4,6" fill="#0a80f8"/>
<polygon points="38.5,-5 46,-5 46,3 41.2,7" fill="#0a80f8"/>
</g></g>
</g></g>
<g transform="translate(355.3,452.4)">
<clipPath id="pc10"><rect x="-0.30" y="-0.40" width="62" height="58"/></clipPath>
<g clip-path="url(#pc10)">
<circle cx="15.1" cy="23.9" r="11.6" fill="none" stroke="#2a2a2a" stroke-width="0.6"/>
<circle cx="46.7" cy="23.9" r="11.6" fill="none" stroke="#2a2a2a" stroke-width="0.6"/>
<circle cx="30.9" cy="49.9" r="10.8" fill="none" stroke="#2a2a2a" stroke-width="0.6"/>
<circle cx="11.2" cy="1.3" r="11.0" fill="none" stroke="#2a2a2a" stroke-width="0.6"/>
<circle cx="50.4" cy="1.3" r="11.0" fill="none" stroke="#2a2a2a" stroke-width="0.6"/>
<circle cx="-7.4" cy="30.3" r="12.0" fill="none" stroke="#2a2a2a" stroke-width="0.6"/>
<circle cx="69.0" cy="30.3" r="12.0" fill="none" stroke="#2a2a2a" stroke-width="0.6"/>
<circle cx="12.8" cy="21.6" r="7.4" fill="none" stroke="#2a2a2a" stroke-width="0.55"/>
<circle cx="48.8" cy="21.6" r="7.4" fill="none" stroke="#2a2a2a" stroke-width="0.55"/>
<circle cx="31.1" cy="54.2" r="7.0" fill="none" stroke="#2a2a2a" stroke-width="0.55"/>
<circle cx="10.8" cy="0.0" r="6.8" fill="none" stroke="#2a2a2a" stroke-width="0.55"/>
<circle cx="50.8" cy="0.0" r="6.8" fill="none" stroke="#2a2a2a" stroke-width="0.55"/>
<g mask="url(#mk_strong)"><g clip-path="url(#pp_strong)">
<rect x="-10.0" y="-10.0" width="82.6" height="77.4" fill="#f8800a"/>
<polygon points="-10,22 26,27 30,29.5 32.4,34 31,38.5 28,42 28,70 -10,70" fill="#0a80f8"/>
</g></g>
</g></g>
<g transform="translate(418.8,452.4)">
<clipPath id="pc11"><rect x="0.20" y="-0.40" width="61" height="58"/></clipPath>
<g clip-path="url(#pc11)">
<circle cx="15.1" cy="23.9" r="11.6" fill="none" stroke="#2a2a2a" stroke-width="0.6"/>
<circle cx="46.7" cy="23.9" r="11.6" fill="none" stroke="#2a2a2a" stroke-width="0.6"/>
<circle cx="30.9" cy="49.9" r="10.8" fill="none" stroke="#2a2a2a" stroke-width="0.6"/>
<circle cx="11.2" cy="1.3" r="11.0" fill="none" stroke="#2a2a2a" stroke-width="0.6"/>
<circle cx="50.4" cy="1.3" r="11.0" fill="none" stroke="#2a2a2a" stroke-width="0.6"/>
<circle cx="-7.4" cy="30.3" r="12.0" fill="none" stroke="#2a2a2a" stroke-width="0.6"/>
<circle cx="69.0" cy="30.3" r="12.0" fill="none" stroke="#2a2a2a" stroke-width="0.6"/>
<circle cx="12.8" cy="21.6" r="7.4" fill="none" stroke="#2a2a2a" stroke-width="0.55"/>
<circle cx="48.8" cy="21.6" r="7.4" fill="none" stroke="#2a2a2a" stroke-width="0.55"/>
<circle cx="31.1" cy="54.2" r="7.0" fill="none" stroke="#2a2a2a" stroke-width="0.55"/>
<circle cx="10.8" cy="0.0" r="6.8" fill="none" stroke="#2a2a2a" stroke-width="0.55"/>
<circle cx="50.8" cy="0.0" r="6.8" fill="none" stroke="#2a2a2a" stroke-width="0.55"/>
<g mask="url(#mk_strong)"><g clip-path="url(#pp_strong)">
<rect x="-10.0" y="-10.0" width="82.6" height="77.4" fill="#f8800a"/>
</g></g>
</g></g>
<text x="45.0" y="382.0" font-size="10.80" text-anchor="start" font-style="italic" font-weight="bold" fill="#000">LP</text>
<text x="58.3" y="383.8" font-size="7.20" text-anchor="start" font-weight="bold" fill="#000">01</text>
<text x="58.9" y="377.0" font-size="7.60" text-anchor="start" font-weight="bold" fill="#000">1</text>
<text x="109.3" y="382.0" font-size="10.80" text-anchor="start" font-style="italic" font-weight="bold" fill="#000">LP</text>
<text x="122.6" y="383.8" font-size="7.20" text-anchor="start" font-weight="bold" fill="#000">01</text>
<text x="123.2" y="377.0" font-size="7.60" text-anchor="start" font-weight="bold" fill="#000">2</text>
<text x="174.5" y="382.0" font-size="10.80" text-anchor="start" font-style="italic" font-weight="bold" fill="#000">LP</text>
<text x="187.8" y="383.8" font-size="7.20" text-anchor="start" font-weight="bold" fill="#000">01</text>
<text x="188.4" y="377.0" font-size="7.60" text-anchor="start" font-weight="bold" fill="#000">3</text>
<text x="311.6" y="382.0" font-size="10.80" text-anchor="start" font-style="italic" font-weight="bold" fill="#000">LP</text>
<text x="324.9" y="383.8" font-size="7.20" text-anchor="start" font-weight="bold" fill="#000">01</text>
<text x="325.5" y="377.0" font-size="7.60" text-anchor="start" font-weight="bold" fill="#000">1</text>
<text x="376.4" y="382.0" font-size="10.80" text-anchor="start" font-style="italic" font-weight="bold" fill="#000">LP</text>
<text x="389.7" y="383.8" font-size="7.20" text-anchor="start" font-weight="bold" fill="#000">01</text>
<text x="390.3" y="377.0" font-size="7.60" text-anchor="start" font-weight="bold" fill="#000">2</text>
<text x="441.3" y="382.0" font-size="10.80" text-anchor="start" font-style="italic" font-weight="bold" fill="#000">LP</text>
<text x="454.6" y="383.8" font-size="7.20" text-anchor="start" font-weight="bold" fill="#000">01</text>
<text x="455.2" y="377.0" font-size="7.60" text-anchor="start" font-weight="bold" fill="#000">3</text>
<text x="13.2" y="421.0" font-size="11.00" text-anchor="middle" font-style="italic" font-weight="bold" fill="#000">x</text>
<text x="13.2" y="481.6" font-size="11.00" text-anchor="middle" font-style="italic" font-weight="bold" fill="#000">y</text>
<text x="281.2" y="421.0" font-size="11.00" text-anchor="middle" font-style="italic" font-weight="bold" fill="#000">x</text>
<text x="281.2" y="481.6" font-size="11.00" text-anchor="middle" font-style="italic" font-weight="bold" fill="#000">y</text>
<rect x="224.9" y="391.2" width="8.6" height="117.2" fill="url(#jet)" stroke="#222" stroke-width="0.6"/>
<line x1="224.9" y1="505.8" x2="226.5" y2="505.8" stroke="#222" stroke-width="0.6"/>
<line x1="233.5" y1="505.8" x2="231.9" y2="505.8" stroke="#222" stroke-width="0.6"/>
<text x="244.1" y="508.9" font-size="9.40" text-anchor="end" fill="#222"><tspan font-size="6.6" dy="-0.9">−</tspan><tspan dy="0.9">3</tspan></text>
<line x1="224.9" y1="487.1" x2="226.5" y2="487.1" stroke="#222" stroke-width="0.6"/>
<line x1="233.5" y1="487.1" x2="231.9" y2="487.1" stroke="#222" stroke-width="0.6"/>
<text x="244.1" y="490.2" font-size="9.40" text-anchor="end" fill="#222"><tspan font-size="6.6" dy="-0.9">−</tspan><tspan dy="0.9">2</tspan></text>
<line x1="224.9" y1="468.5" x2="226.5" y2="468.5" stroke="#222" stroke-width="0.6"/>
<line x1="233.5" y1="468.5" x2="231.9" y2="468.5" stroke="#222" stroke-width="0.6"/>
<text x="244.1" y="471.6" font-size="9.40" text-anchor="end" fill="#222"><tspan font-size="6.6" dy="-0.9">−</tspan><tspan dy="0.9">1</tspan></text>
<line x1="224.9" y1="449.8" x2="226.5" y2="449.8" stroke="#222" stroke-width="0.6"/>
<line x1="233.5" y1="449.8" x2="231.9" y2="449.8" stroke="#222" stroke-width="0.6"/>
<text x="244.1" y="452.9" font-size="9.40" text-anchor="end" fill="#222">0</text>
<line x1="224.9" y1="431.1" x2="226.5" y2="431.1" stroke="#222" stroke-width="0.6"/>
<line x1="233.5" y1="431.1" x2="231.9" y2="431.1" stroke="#222" stroke-width="0.6"/>
<text x="244.1" y="434.2" font-size="9.40" text-anchor="end" fill="#222">1</text>
<line x1="224.9" y1="412.5" x2="226.5" y2="412.5" stroke="#222" stroke-width="0.6"/>
<line x1="233.5" y1="412.5" x2="231.9" y2="412.5" stroke="#222" stroke-width="0.6"/>
<text x="244.1" y="415.6" font-size="9.40" text-anchor="end" fill="#222">2</text>
<line x1="224.9" y1="393.8" x2="226.5" y2="393.8" stroke="#222" stroke-width="0.6"/>
<line x1="233.5" y1="393.8" x2="231.9" y2="393.8" stroke="#222" stroke-width="0.6"/>
<text x="244.1" y="396.9" font-size="9.40" text-anchor="end" fill="#222">3</text>
<rect x="489.2" y="391.2" width="8.9" height="117.2" fill="url(#jet)" stroke="#222" stroke-width="0.6"/>
<line x1="489.2" y1="505.8" x2="490.8" y2="505.8" stroke="#222" stroke-width="0.6"/>
<line x1="498.1" y1="505.8" x2="496.5" y2="505.8" stroke="#222" stroke-width="0.6"/>
<text x="508.7" y="508.9" font-size="9.40" text-anchor="end" fill="#222"><tspan font-size="6.6" dy="-0.9">−</tspan><tspan dy="0.9">3</tspan></text>
<line x1="489.2" y1="487.1" x2="490.8" y2="487.1" stroke="#222" stroke-width="0.6"/>
<line x1="498.1" y1="487.1" x2="496.5" y2="487.1" stroke="#222" stroke-width="0.6"/>
<text x="508.7" y="490.2" font-size="9.40" text-anchor="end" fill="#222"><tspan font-size="6.6" dy="-0.9">−</tspan><tspan dy="0.9">2</tspan></text>
<line x1="489.2" y1="468.5" x2="490.8" y2="468.5" stroke="#222" stroke-width="0.6"/>
<line x1="498.1" y1="468.5" x2="496.5" y2="468.5" stroke="#222" stroke-width="0.6"/>
<text x="508.7" y="471.6" font-size="9.40" text-anchor="end" fill="#222"><tspan font-size="6.6" dy="-0.9">−</tspan><tspan dy="0.9">1</tspan></text>
<line x1="489.2" y1="449.8" x2="490.8" y2="449.8" stroke="#222" stroke-width="0.6"/>
<line x1="498.1" y1="449.8" x2="496.5" y2="449.8" stroke="#222" stroke-width="0.6"/>
<text x="508.7" y="452.9" font-size="9.40" text-anchor="end" fill="#222">0</text>
<line x1="489.2" y1="431.1" x2="490.8" y2="431.1" stroke="#222" stroke-width="0.6"/>
<line x1="498.1" y1="431.1" x2="496.5" y2="431.1" stroke="#222" stroke-width="0.6"/>
<text x="508.7" y="434.2" font-size="9.40" text-anchor="end" fill="#222">1</text>
<line x1="489.2" y1="412.5" x2="490.8" y2="412.5" stroke="#222" stroke-width="0.6"/>
<line x1="498.1" y1="412.5" x2="496.5" y2="412.5" stroke="#222" stroke-width="0.6"/>
<text x="508.7" y="415.6" font-size="9.40" text-anchor="end" fill="#222">2</text>
<line x1="489.2" y1="393.8" x2="490.8" y2="393.8" stroke="#222" stroke-width="0.6"/>
<line x1="498.1" y1="393.8" x2="496.5" y2="393.8" stroke="#222" stroke-width="0.6"/>
<text x="508.7" y="396.9" font-size="9.40" text-anchor="end" fill="#222">3</text>
</svg>
</body></html>
